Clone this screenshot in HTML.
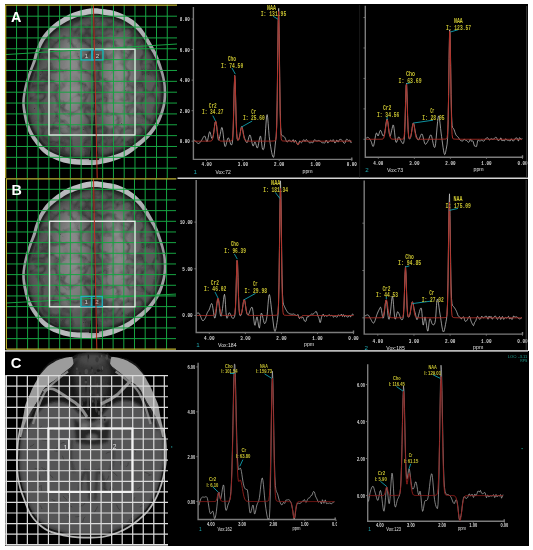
<!DOCTYPE html><html><head><meta charset="utf-8"><style>html,body{margin:0;padding:0;background:#fff;overflow:hidden}svg{display:block}.mono{font-family:"Liberation Mono",monospace}.sans{font-family:"Liberation Sans",Arial,sans-serif}</style></head><body>
<svg width="533" height="550" viewBox="0 0 533 550">
<defs><filter id="b1" x="-20%" y="-20%" width="140%" height="140%"><feGaussianBlur stdDeviation="1"/></filter><filter id="b2" x="-20%" y="-20%" width="140%" height="140%"><feGaussianBlur stdDeviation="2.2"/></filter><filter id="b4" x="-30%" y="-30%" width="160%" height="160%"><feGaussianBlur stdDeviation="4"/></filter><filter id="turbA" x="0" y="0" width="100%" height="100%" filterUnits="objectBoundingBox"><feTurbulence type="turbulence" baseFrequency="0.07" numOctaves="2" seed="4" result="t"/><feColorMatrix in="t" type="matrix" values="0 0 0 0 0  0 0 0 0 0  0 0 0 0 0  -2.2 0 0 0 0.75" result="a"/><feComposite in="a" in2="SourceGraphic" operator="in"/><feGaussianBlur stdDeviation="0.5"/></filter><filter id="b06" x="-20%" y="-20%" width="140%" height="140%"><feGaussianBlur stdDeviation="0.6"/></filter></defs>
<rect width="533" height="550" fill="#fff"/>
<rect x="5" y="4" width="523" height="174.5" fill="#000"/>
<rect x="5" y="178" width="523" height="173" fill="#000"/>
<rect x="5" y="351" width="524" height="195" fill="#000"/>
<defs><g id="brainAB"><linearGradient id="ringG" x1="0" y1="0" x2="0" y2="1"><stop offset="0" stop-color="#c2c2c6"/><stop offset="0.2" stop-color="#a8a8ac"/><stop offset="0.45" stop-color="#96969a"/><stop offset="0.7" stop-color="#a0a0a4"/><stop offset="1" stop-color="#bcbcc0"/></linearGradient>
<path d="M93,8.2 C97.17,7.98 101.33,8.8 105,9.3 C108.67,9.8 111.75,10.27 115,11.2 C118.25,12.13 121.63,13.5 124.5,14.9 C127.37,16.3 129.82,17.87 132.2,19.6 C134.58,21.33 136.92,23.42 138.8,25.3 C140.68,27.18 142.1,29.03 143.5,30.9 C144.9,32.77 145.95,34.47 147.2,36.5 C148.45,38.53 149.75,40.92 151,43.1 C152.25,45.28 153.62,47.57 154.7,49.6 C155.78,51.63 156.57,53.1 157.5,55.3 C158.43,57.5 159.32,59.92 160.3,62.8 C161.28,65.68 162.52,69.23 163.4,72.6 C164.28,75.97 165.13,79.77 165.6,83 C166.07,86.23 166.13,89.33 166.2,92 C166.27,94.67 166.27,96.32 166,99 C165.73,101.68 165.57,104.45 164.6,108.1 C163.63,111.75 162.27,116.63 160.2,120.9 C158.13,125.17 155.4,129.72 152.2,133.7 C149,137.68 144.98,141.35 141,144.8 C137.02,148.25 132.82,151.73 128.3,154.4 C123.78,157.07 118.95,159.13 113.9,160.8 C108.85,162.47 102.52,163.7 98,164.4 C93.48,165.1 91.33,165.07 86.8,165 C82.27,164.93 75.85,164.83 70.8,164 C65.75,163.17 61.02,161.87 56.5,160 C51.98,158.13 47.43,155.87 43.7,152.8 C39.97,149.73 36.75,145.32 34.1,141.6 C31.45,137.88 29.52,134.75 27.8,130.5 C26.08,126.25 24.73,120.88 23.8,116.1 C22.87,111.32 22.07,106.82 22.2,101.8 C22.33,96.78 23.5,90.97 24.6,86 C25.7,81.03 27.43,76.18 28.8,72 C30.17,67.82 31.8,64 32.8,60.9 C33.8,57.8 34.07,55.75 34.8,53.4 C35.53,51.05 36.4,48.83 37.2,46.8 C38,44.77 38.58,43.15 39.6,41.2 C40.62,39.25 41.9,37.05 43.3,35.1 C44.7,33.15 46.28,31.3 48,29.5 C49.72,27.7 51.57,25.95 53.6,24.3 C55.63,22.65 57.8,21.15 60.2,19.6 C62.6,18.05 64.7,16.5 68,15 C71.3,13.5 75.83,11.73 80,10.6 C84.17,9.47 88.83,8.42 93,8.2 Z" fill="url(#ringG)" filter="url(#b06)"/>
<path d="M93.11,13.9 C96.98,13.7 100.84,14.46 104.25,14.89 C107.67,15.33 110.54,15.69 113.58,16.5 C116.63,17.31 119.81,18.51 122.51,19.75 C125.21,20.99 127.54,22.38 129.81,23.94 C132.08,25.5 134.32,27.38 136.13,29.09 C137.94,30.79 139.31,32.49 140.67,34.2 C142.03,35.9 143.06,37.47 144.29,39.34 C145.53,41.21 146.82,43.41 148.07,45.43 C149.33,47.44 150.71,49.55 151.81,51.44 C152.91,53.33 153.72,54.7 154.68,56.76 C155.64,58.83 156.56,61.1 157.58,63.84 C158.61,66.58 159.89,69.96 160.81,73.18 C161.73,76.4 162.61,80.06 163.09,83.18 C163.57,86.29 163.63,89.29 163.69,91.86 C163.75,94.43 163.74,96.03 163.46,98.61 C163.17,101.19 162.97,103.86 161.96,107.34 C160.95,110.82 159.51,115.49 157.39,119.49 C155.28,123.5 152.47,127.73 149.27,131.38 C146.08,135.03 142.08,138.3 138.2,141.38 C134.33,144.47 130.3,147.55 126.01,149.91 C121.73,152.26 117.2,154.03 112.49,155.5 C107.77,156.96 101.93,158.07 97.74,158.71 C93.55,159.36 91.59,159.34 87.36,159.36 C83.14,159.38 77.17,159.46 72.41,158.83 C67.66,158.2 63.16,157.17 58.84,155.58 C54.51,153.98 50.1,152.03 46.47,149.27 C42.83,146.51 39.65,142.44 37.02,139 C34.39,135.57 32.44,132.66 30.69,128.66 C28.94,124.66 27.52,119.57 26.53,115.02 C25.54,110.46 24.67,106.13 24.77,101.31 C24.86,96.49 26,90.85 27.1,86.07 C28.21,81.29 29.99,76.63 31.4,72.63 C32.81,68.64 34.52,65.04 35.56,62.11 C36.61,59.18 36.9,57.26 37.66,55.06 C38.42,52.85 39.3,50.79 40.12,48.9 C40.93,47 41.52,45.5 42.53,43.7 C43.54,41.89 44.81,39.87 46.19,38.08 C47.56,36.3 49.11,34.62 50.78,32.99 C52.44,31.36 54.23,29.79 56.17,28.31 C58.12,26.83 60.19,25.5 62.47,24.12 C64.74,22.74 66.72,21.35 69.82,20.01 C72.91,18.67 77.15,17.11 81.03,16.1 C84.91,15.08 89.24,14.1 93.11,13.9 Z" fill="#1e1e1e" filter="url(#b06)"/>
<path d="M93.15,16.4 C96.89,16.2 100.63,16.95 103.92,17.38 C107.22,17.8 110,18.14 112.94,18.93 C115.87,19.71 118.94,20.88 121.55,22.09 C124.16,23.29 126.4,24.65 128.58,26.17 C130.76,27.69 132.91,29.52 134.64,31.18 C136.38,32.85 137.69,34.49 138.99,36.16 C140.29,37.82 141.26,39.34 142.43,41.16 C143.6,42.98 144.83,45.11 146.02,47.06 C147.21,49.01 148.53,51.04 149.58,52.86 C150.63,54.68 151.4,56 152.32,57.99 C153.24,59.98 154.11,62.17 155.09,64.8 C156.06,67.43 157.3,70.67 158.19,73.77 C159.07,76.86 159.93,80.38 160.4,83.37 C160.87,86.36 160.93,89.24 161,91.71 C161.06,94.18 161.06,95.72 160.79,98.2 C160.52,100.68 160.35,103.25 159.38,106.6 C158.42,109.95 157.04,114.44 155.01,118.3 C152.99,122.16 150.29,126.24 147.22,129.75 C144.14,133.27 140.29,136.41 136.57,139.39 C132.84,142.37 128.98,145.36 124.86,147.64 C120.74,149.92 116.38,151.64 111.84,153.07 C107.3,154.5 101.66,155.58 97.63,156.21 C93.59,156.85 91.69,156.84 87.61,156.87 C83.54,156.91 77.76,157.02 73.16,156.43 C68.56,155.83 64.21,154.86 60.02,153.33 C55.84,151.8 51.56,149.92 48.05,147.25 C44.55,144.57 41.5,140.61 38.98,137.27 C36.45,133.94 34.58,131.11 32.92,127.24 C31.26,123.37 29.93,118.43 29.01,114.03 C28.1,109.62 27.28,105.45 27.41,100.81 C27.54,96.16 28.7,90.74 29.8,86.15 C30.9,81.56 32.65,77.1 34.02,73.27 C35.38,69.44 37.02,66 38.01,63.19 C38.99,60.37 39.24,58.51 39.95,56.39 C40.66,54.26 41.49,52.26 42.25,50.43 C43.01,48.6 43.56,47.14 44.52,45.39 C45.48,43.65 46.68,41.68 47.99,39.95 C49.3,38.22 50.79,36.59 52.38,35.01 C53.97,33.43 55.69,31.9 57.56,30.46 C59.43,29.03 61.42,27.74 63.61,26.39 C65.79,25.04 67.7,23.68 70.68,22.38 C73.66,21.07 77.75,19.56 81.49,18.56 C85.24,17.56 89.42,16.59 93.15,16.4 Z" fill="#464646" filter="url(#b1)"/>
<path d="M93.23,20.2 C96.76,20 100.3,20.74 103.42,21.14 C106.54,21.54 109.18,21.86 111.96,22.6 C114.74,23.34 117.64,24.45 120.11,25.6 C122.57,26.75 124.69,28.05 126.74,29.5 C128.8,30.94 130.82,32.69 132.45,34.28 C134.08,35.88 135.3,37.45 136.51,39.04 C137.72,40.63 138.63,42.08 139.72,43.81 C140.8,45.54 141.93,47.57 143.04,49.42 C144.16,51.27 145.4,53.19 146.38,54.91 C147.36,56.63 148.09,57.86 148.95,59.74 C149.81,61.61 150.62,63.68 151.54,66.16 C152.46,68.63 153.63,71.68 154.48,74.59 C155.32,77.51 156.15,80.82 156.61,83.63 C157.06,86.45 157.13,89.17 157.2,91.5 C157.28,93.83 157.28,95.28 157.04,97.62 C156.79,99.96 156.63,102.39 155.73,105.56 C154.83,108.72 153.53,112.96 151.61,116.6 C149.7,120.24 147.15,124.09 144.24,127.39 C141.33,130.7 137.68,133.64 134.16,136.45 C130.64,139.26 127.02,142.1 123.14,144.26 C119.25,146.41 115.14,148.04 110.86,149.4 C106.58,150.76 101.26,151.8 97.45,152.42 C93.64,153.03 91.85,153.03 87.99,153.09 C84.13,153.15 78.66,153.32 74.29,152.8 C69.93,152.28 65.78,151.39 61.8,149.97 C57.81,148.54 53.73,146.79 50.4,144.25 C47.07,141.72 44.2,137.93 41.82,134.75 C39.44,131.57 37.67,128.89 36.12,125.2 C34.57,121.51 33.37,116.81 32.54,112.62 C31.71,108.44 30.97,104.49 31.14,100.09 C31.32,95.7 32.5,90.58 33.6,86.26 C34.69,81.94 36.39,77.76 37.71,74.17 C39.02,70.58 40.56,67.36 41.48,64.71 C42.41,62.07 42.6,60.3 43.24,58.29 C43.88,56.28 44.64,54.39 45.34,52.65 C46.03,50.91 46.53,49.52 47.41,47.86 C48.29,46.2 49.41,44.33 50.64,42.68 C51.86,41.03 53.25,39.49 54.74,37.98 C56.24,36.48 57.85,35.03 59.61,33.66 C61.37,32.29 63.25,31.07 65.31,29.79 C67.37,28.5 69.16,27.2 71.98,25.95 C74.79,24.7 78.65,23.25 82.19,22.29 C85.73,21.34 89.69,20.39 93.23,20.2 Z" fill="#5a5a5a" filter="url(#b2)"/>
<g filter="url(#b4)"><ellipse cx="71" cy="86" rx="17" ry="50" fill="#7e7e7e"/><ellipse cx="118" cy="86" rx="17" ry="50" fill="#7e7e7e"/><rect x="88" y="22" width="13" height="136" fill="#4e4e4e"/></g>
<path d="M93.15,16.18 C96.9,15.99 100.65,16.72 103.95,17.17 C107.25,17.62 110.03,18.04 112.95,18.88 C115.88,19.72 118.92,20.95 121.5,22.21 C124.08,23.47 126.29,24.88 128.43,26.44 C130.58,28 132.68,29.87 134.37,31.57 C136.06,33.26 137.34,34.93 138.6,36.61 C139.86,38.29 140.81,39.82 141.93,41.65 C143.06,43.48 144.22,45.62 145.35,47.59 C146.47,49.56 147.71,51.61 148.68,53.44 C149.66,55.27 150.36,56.59 151.2,58.57 C152.04,60.55 152.84,62.72 153.72,65.32 C154.61,67.91 155.72,71.11 156.51,74.14 C157.3,77.17 158.07,80.59 158.49,83.5 C158.91,86.41 158.97,89.2 159.03,91.6 C159.09,94 159.09,95.48 158.85,97.9 C158.61,100.32 158.46,102.81 157.59,106.09 C156.72,109.38 155.49,113.77 153.63,117.61 C151.77,121.45 149.31,125.55 146.43,129.13 C143.55,132.72 139.94,136.02 136.35,139.12 C132.76,142.22 128.99,145.36 124.92,147.76 C120.86,150.16 116.51,152.02 111.96,153.52 C107.42,155.02 101.72,156.13 97.65,156.76 C93.59,157.39 91.65,157.36 87.57,157.3 C83.49,157.24 77.72,157.15 73.17,156.4 C68.62,155.65 64.36,154.48 60.3,152.8 C56.23,151.12 52.14,149.08 48.78,146.32 C45.42,143.56 42.52,139.59 40.14,136.24 C37.76,132.9 36.02,130.07 34.47,126.25 C32.92,122.42 31.71,117.59 30.87,113.29 C30.03,108.98 29.31,104.94 29.43,100.42 C29.55,95.91 30.6,90.67 31.59,86.2 C32.58,81.73 34.14,77.36 35.37,73.6 C36.6,69.83 38.07,66.4 38.97,63.61 C39.87,60.82 40.11,58.98 40.77,56.86 C41.43,54.74 42.21,52.75 42.93,50.92 C43.65,49.09 44.18,47.64 45.09,45.88 C46.01,44.12 47.16,42.15 48.42,40.39 C49.68,38.63 51.1,36.97 52.65,35.35 C54.2,33.73 55.86,32.15 57.69,30.67 C59.52,29.18 61.47,27.83 63.63,26.44 C65.79,25.04 67.68,23.65 70.65,22.3 C73.62,20.95 77.7,19.36 81.45,18.34 C85.2,17.32 89.4,16.38 93.15,16.18 Z" fill="#000" filter="url(#turbA)" opacity="0.45"/>
<g filter="url(#b2)" fill="#8e8e8e" opacity="0.75"><ellipse cx="72" cy="78" rx="6" ry="30"/><ellipse cx="117" cy="78" rx="6" ry="30"/></g>
<g filter="url(#b06)"><path d="M93.6,16 L94,40 M94.2,70 L94.6,110" stroke="#262626" stroke-width="1.4" fill="none"/><path d="M94.3,112 L96,128 L97.5,150 L99,160 L89,160 L92,140 Z" fill="#141414"/></g></g><clipPath id="clipA"><rect x="5.5" y="4.5" width="171.5" height="173.5"/></clipPath><clipPath id="clipB"><rect x="6" y="178.5" width="170" height="171"/></clipPath></defs>
<g clip-path="url(#clipA)">
<use href="#brainAB"/>
<path d="M16.55,4.5 V178 M27.32,4.5 V178 M38.08,4.5 V178 M48.84,4.5 V178 M59.61,4.5 V178 M70.38,4.5 V178 M81.14,4.5 V178 M91.91,4.5 V178 M102.67,4.5 V178 M113.44,4.5 V178 M124.2,4.5 V178 M134.97,4.5 V178 M145.73,4.5 V178 M156.5,4.5 V178 M167.26,4.5 V178 M5.5,16.2 H177 M5.5,27.06 H177 M5.5,37.91 H177 M5.5,48.77 H177 M5.5,59.63 H177 M5.5,70.48 H177 M5.5,81.34 H177 M5.5,92.2 H177 M5.5,103.06 H177 M5.5,113.91 H177 M5.5,124.77 H177 M5.5,135.63 H177 M5.5,146.48 H177 M5.5,157.34 H177 M5.5,168.2 H177" stroke="#16a442" stroke-width="1.0" fill="none"/>
<path d="M5,54.6 L177,44" stroke="#16a442" stroke-width="1.0"/>
<rect x="49" y="49.2" width="86" height="85.8" fill="none" stroke="#e6e6e6" stroke-width="1.4"/>
<rect x="81" y="50" width="11" height="10" fill="none" stroke="#20b0c0" stroke-width="1.3"/>
<rect x="92" y="50" width="11" height="10" fill="none" stroke="#20b0c0" stroke-width="1.3"/>
<text x="86.5" y="58" font-size="6.2" fill="#d0d0d0" text-anchor="middle" class="sans">1</text>
<text x="97.5" y="58" font-size="6.2" fill="#d0d0d0" text-anchor="middle" class="sans">2</text>
<path d="M93.4,4 L97.2,178" stroke="#c03020" stroke-width="1"/>
</g>
<path d="M5.7,178 V5.2 H177" stroke="#bcb030" stroke-width="1.2" fill="none"/>
<text x="11" y="21.6" font-size="14.3" font-weight="bold" fill="#fff" class="sans">A</text>
<g clip-path="url(#clipB)">
<g transform="translate(0,173.1)"><use href="#brainAB"/></g>
<path d="M16.9,178.5 V350 M27.59,178.5 V350 M38.28,178.5 V350 M48.97,178.5 V350 M59.66,178.5 V350 M70.35,178.5 V350 M81.04,178.5 V350 M91.73,178.5 V350 M102.42,178.5 V350 M113.11,178.5 V350 M123.8,178.5 V350 M134.49,178.5 V350 M145.18,178.5 V350 M155.87,178.5 V350 M166.56,178.5 V350 M6,189.3 H176 M6,199.97 H176 M6,210.63 H176 M6,221.3 H176 M6,231.96 H176 M6,242.62 H176 M6,253.29 H176 M6,263.96 H176 M6,274.62 H176 M6,285.28 H176 M6,295.95 H176 M6,306.62 H176 M6,317.28 H176 M6,327.94 H176 M6,338.61 H176" stroke="#16a442" stroke-width="1.0" fill="none"/>
<path d="M6,303 L177,294" stroke="#16a442" stroke-width="1.0"/>
<rect x="49.5" y="221.3" width="85.5" height="85.5" fill="none" stroke="#e6e6e6" stroke-width="1.4"/>
<rect x="81" y="296.5" width="10.5" height="10" fill="none" stroke="#20b0c0" stroke-width="1.3"/>
<rect x="91.5" y="296.5" width="10.8" height="10" fill="none" stroke="#20b0c0" stroke-width="1.3"/>
<text x="86.3" y="304.3" font-size="6.2" fill="#d0d0d0" text-anchor="middle" class="sans">1</text>
<text x="96.9" y="304.3" font-size="6.2" fill="#d0d0d0" text-anchor="middle" class="sans">2</text>
<path d="M93.5,178 L96.85,351" stroke="#c03020" stroke-width="1"/>
</g>
<path d="M6.4,349.2 V178.9 H176.3 M6.4,349.2 H176" stroke="#bcb030" stroke-width="1.2" fill="none"/>
<text x="11.5" y="195" font-size="14.3" font-weight="bold" fill="#fff" class="sans">B</text>
<path d="M177.5,178.3 H528" stroke="#d4d4d4" stroke-width="1.6"/>
<path d="M5,350.9 H528" stroke="#b8b8b8" stroke-width="1.6"/>
<clipPath id="clipC"><rect x="5" y="351.8" width="165" height="194"/></clipPath>
<g clip-path="url(#clipC)">
<path d="M91.8,352.5 C95.8,352.5 100.47,352.83 104,353.5 C107.53,354.17 109.5,355.7 113,356.5 C116.5,357.3 121.5,357.28 125,358.3 C128.5,359.32 131.25,360.65 134,362.6 C136.75,364.55 139.23,367.02 141.5,370 C143.77,372.98 145.72,376.75 147.6,380.5 C149.48,384.25 151.3,388.5 152.8,392.5 C154.3,396.5 155.35,400.5 156.6,404.5 C157.85,408.5 159.17,412.58 160.3,416.5 C161.43,420.42 162.55,424.08 163.4,428 C164.25,431.92 164.97,436 165.4,440 C165.83,444 165.97,448 166,452 C166.03,456 166.03,459.83 165.6,464 C165.17,468.17 164.42,472.67 163.4,477 C162.38,481.33 160.98,486 159.5,490 C158.02,494 156.5,497.42 154.5,501 C152.5,504.58 150.08,508.42 147.5,511.5 C144.92,514.58 142.08,516.92 139,519.5 C135.92,522.08 132.5,524.83 129,527 C125.5,529.17 122,530.92 118,532.5 C114,534.08 109.42,535.65 105,536.5 C100.58,537.35 96,537.47 91.5,537.6 C87,537.73 81.93,537.53 78,537.3 C74.07,537.07 71.27,536.77 67.9,536.2 C64.53,535.63 60.98,534.75 57.8,533.9 C54.62,533.05 51.62,532.42 48.8,531.1 C45.98,529.78 43.35,527.97 40.9,526 C38.45,524.03 36.17,521.92 34.1,519.3 C32.03,516.68 30.18,513.68 28.5,510.3 C26.82,506.92 25.38,502.72 24,499 C22.62,495.28 21.22,491.67 20.2,488 C19.18,484.33 18.42,480.67 17.9,477 C17.38,473.33 17.2,470 17.1,466 C17,462 17.13,457.17 17.3,453 C17.47,448.83 17.63,445 18.1,441 C18.57,437 19.25,433 20.1,429 C20.95,425 22.05,421 23.2,417 C24.35,413 25.73,409 27,405 C28.27,401 29.3,397 30.8,393 C32.3,389 34.12,384.8 36,381 C37.88,377.2 39.83,373.27 42.1,370.2 C44.37,367.13 46.85,364.58 49.6,362.6 C52.35,360.62 55.1,359.27 58.6,358.3 C62.1,357.33 67.03,357.6 70.6,356.8 C74.17,356 76.47,354.22 80,353.5 C83.53,352.78 87.8,352.5 91.8,352.5 Z" fill="#141414" filter="url(#b06)"/>
<path d="M91.8,355.62 C95.67,355.62 100.19,355.94 103.61,356.59 C107.03,357.23 108.93,358.72 112.32,359.49 C115.71,360.27 120.55,360.25 123.94,361.23 C127.33,362.22 129.99,363.51 132.65,365.4 C135.31,367.28 137.72,369.67 139.91,372.56 C142.1,375.45 143.99,379.09 145.81,382.72 C147.64,386.35 149.4,390.47 150.85,394.34 C152.3,398.21 153.32,402.08 154.53,405.96 C155.74,409.83 157.01,413.78 158.11,417.57 C159.21,421.36 160.29,424.91 161.11,428.7 C161.93,432.5 162.63,436.45 163.04,440.32 C163.46,444.19 163.59,448.06 163.63,451.94 C163.66,455.81 163.66,459.52 163.24,463.55 C162.82,467.59 162.09,471.94 161.11,476.14 C160.12,480.33 158.77,484.85 157.33,488.72 C155.9,492.59 154.43,495.9 152.49,499.37 C150.56,502.84 148.22,506.55 145.72,509.53 C143.22,512.52 140.47,514.78 137.49,517.28 C134.5,519.78 131.2,522.44 127.81,524.54 C124.42,526.63 121.03,528.33 117.16,529.86 C113.29,531.39 108.85,532.91 104.58,533.73 C100.3,534.55 95.87,534.67 91.51,534.8 C87.15,534.93 82.25,534.73 78.44,534.51 C74.63,534.28 71.92,533.99 68.66,533.44 C65.41,532.89 61.97,532.04 58.89,531.22 C55.81,530.39 52.9,529.78 50.18,528.5 C47.45,527.23 44.9,525.47 42.53,523.57 C40.16,521.66 37.95,519.62 35.95,517.08 C33.95,514.55 32.16,511.65 30.53,508.37 C28.9,505.1 27.51,501.03 26.17,497.43 C24.83,493.83 23.48,490.33 22.49,486.78 C21.51,483.23 20.76,479.69 20.26,476.14 C19.76,472.59 19.59,469.36 19.49,465.49 C19.39,461.62 19.52,456.94 19.68,452.9 C19.85,448.87 20.01,445.16 20.46,441.29 C20.91,437.42 21.57,433.54 22.39,429.67 C23.22,425.8 24.28,421.93 25.4,418.06 C26.51,414.18 27.85,410.31 29.07,406.44 C30.3,402.57 31.3,398.7 32.75,394.82 C34.2,390.95 35.96,386.89 37.79,383.21 C39.61,379.53 41.5,375.72 43.69,372.75 C45.88,369.79 48.29,367.32 50.95,365.4 C53.61,363.48 56.27,362.17 59.66,361.23 C63.05,360.3 67.83,360.56 71.28,359.78 C74.73,359.01 76.96,357.28 80.38,356.59 C83.8,355.89 87.93,355.62 91.8,355.62 Z" fill="#3c3c3c" filter="url(#b06)"/>
<path d="M91.8,357.38 C95.6,357.38 100.03,357.69 103.39,358.32 C106.75,358.96 108.61,360.42 111.94,361.18 C115.27,361.94 120.02,361.92 123.34,362.88 C126.67,363.85 129.28,365.12 131.89,366.97 C134.5,368.82 136.86,371.17 139.01,374 C141.17,376.83 143.02,380.41 144.81,383.98 C146.6,387.54 148.32,391.57 149.75,395.38 C151.18,399.18 152.17,402.97 153.36,406.77 C154.55,410.57 155.8,414.45 156.88,418.18 C157.95,421.9 159.01,425.38 159.82,429.1 C160.63,432.82 161.31,436.7 161.72,440.5 C162.13,444.3 162.26,448.1 162.29,451.9 C162.32,455.7 162.32,459.34 161.91,463.3 C161.5,467.26 160.79,471.53 159.82,475.65 C158.85,479.77 157.52,484.2 156.12,488 C154.71,491.8 153.27,495.05 151.37,498.45 C149.47,501.85 147.17,505.5 144.72,508.43 C142.26,511.35 139.57,513.57 136.64,516.02 C133.71,518.48 130.47,521.09 127.14,523.15 C123.81,525.21 120.49,526.87 116.69,528.38 C112.89,529.88 108.54,531.37 104.34,532.17 C100.14,532.98 95.79,533.09 91.52,533.22 C87.24,533.35 82.43,533.16 78.69,532.93 C74.95,532.71 72.29,532.43 69.09,531.89 C65.9,531.35 62.52,530.51 59.5,529.7 C56.48,528.9 53.63,528.3 50.95,527.05 C48.27,525.79 45.77,524.07 43.45,522.2 C41.12,520.33 38.95,518.32 36.99,515.83 C35.02,513.35 33.26,510.5 31.66,507.29 C30.07,504.07 28.7,500.08 27.39,496.55 C26.08,493.02 24.75,489.58 23.78,486.1 C22.81,482.62 22.09,479.13 21.59,475.65 C21.1,472.17 20.93,469 20.84,465.2 C20.74,461.4 20.87,456.81 21.03,452.85 C21.18,448.89 21.34,445.25 21.79,441.45 C22.23,437.65 22.88,433.85 23.69,430.05 C24.49,426.25 25.54,422.45 26.63,418.65 C27.72,414.85 29.04,411.05 30.24,407.25 C31.44,403.45 32.43,399.65 33.85,395.85 C35.27,392.05 37,388.06 38.79,384.45 C40.58,380.84 42.43,377.1 44.59,374.19 C46.74,371.28 49.1,368.85 51.71,366.97 C54.32,365.09 56.94,363.8 60.26,362.88 C63.59,361.97 68.27,362.22 71.66,361.46 C75.05,360.7 77.23,359.01 80.59,358.32 C83.95,357.64 88,357.38 91.8,357.38 Z" fill="#555557" filter="url(#b1)"/>
<path d="M163.4,428 C163.73,430 164.97,436 165.4,440 C165.83,444 165.97,448 166,452 C166.03,456 166.03,459.83 165.6,464 C165.17,468.17 164.42,472.67 163.4,477 C162.38,481.33 160.98,486 159.5,490 C158.02,494 156.5,497.42 154.5,501 C152.5,504.58 150.08,508.42 147.5,511.5 C144.92,514.58 142.08,516.92 139,519.5 C135.92,522.08 132.5,524.83 129,527 C125.5,529.17 122,530.92 118,532.5 C114,534.08 109.42,535.65 105,536.5 C100.58,537.35 96,537.47 91.5,537.6 C87,537.73 81.93,537.53 78,537.3 C74.07,537.07 71.27,536.77 67.9,536.2 C64.53,535.63 60.98,534.75 57.8,533.9 C54.62,533.05 51.62,532.42 48.8,531.1 C45.98,529.78 43.35,527.97 40.9,526 C38.45,524.03 36.17,521.92 34.1,519.3 C32.03,516.68 30.18,513.68 28.5,510.3 C26.82,506.92 25.38,502.72 24,499 C22.62,495.28 21.22,491.67 20.2,488 C19.18,484.33 18.42,480.67 17.9,477 C17.38,473.33 17.2,470 17.1,466 C17,462 17.13,457.17 17.3,453 C17.47,448.83 17.63,445 18.1,441 C18.57,437 19.77,431 20.1,429 " stroke="#b4b4b4" stroke-width="1.7" fill="none" filter="url(#b06)"/>
<g filter="url(#b1)"><path d="M26,432 C28,420 32,408 37,396 C42,386 50,377 60,371 C66,368 72,364 76,360 C82,356 102,356 108,360 C112,364 118,368 124,371 C134,377 142,386 147,396 C152,408 156,420 158,432 C152,420 146,410 138,404 C128,398 116,400 108,408 C102,414 98,420 92,422 C86,420 80,414 74,408 C66,400 54,400 46,405 C38,410 32,420 26,432 Z" fill="#151515"/></g>
<g filter="url(#b2)"><path d="M77,356 C82,352.5 102,352.5 107,356 L111,372 L105,400 L79,400 L73,372 Z" fill="#343434"/><ellipse cx="92" cy="360" rx="13" ry="6" fill="#4a4a4a"/></g>
<g filter="url(#b06)" opacity="0.85"><ellipse cx="81.28" cy="399.83" rx="0.94" ry="2.69" fill="rgb(65,65,65)"/><ellipse cx="107.67" cy="385.85" rx="0.82" ry="2.06" fill="rgb(57,57,57)"/><ellipse cx="101.23" cy="355.92" rx="1.3" ry="1.14" fill="rgb(84,84,84)"/><ellipse cx="101.4" cy="370.1" rx="1.43" ry="1.87" fill="rgb(39,39,39)"/><ellipse cx="107.85" cy="405.1" rx="1.34" ry="1.07" fill="rgb(51,51,51)"/><ellipse cx="86.53" cy="387.34" rx="1.38" ry="2.88" fill="rgb(32,32,32)"/><ellipse cx="76.74" cy="403.17" rx="0.75" ry="2.86" fill="rgb(30,30,30)"/><ellipse cx="90.5" cy="390.88" rx="1.08" ry="1.3" fill="rgb(46,46,46)"/><ellipse cx="97.28" cy="385.55" rx="0.88" ry="2.56" fill="rgb(77,77,77)"/><ellipse cx="82.67" cy="417.97" rx="1.39" ry="2.9" fill="rgb(82,82,82)"/><ellipse cx="104.72" cy="419.27" rx="0.75" ry="1.95" fill="rgb(29,29,29)"/><ellipse cx="102.46" cy="368.07" rx="0.78" ry="2.07" fill="rgb(84,84,84)"/><ellipse cx="85.34" cy="417.04" rx="1.06" ry="2.99" fill="rgb(57,57,57)"/><ellipse cx="88.37" cy="356.74" rx="0.79" ry="2.43" fill="rgb(30,30,30)"/><ellipse cx="107.44" cy="355.18" rx="1.26" ry="2.5" fill="rgb(29,29,29)"/><ellipse cx="83.11" cy="394.58" rx="1.78" ry="1.23" fill="rgb(60,60,60)"/><ellipse cx="97.43" cy="395.72" rx="1.71" ry="1.69" fill="rgb(78,78,78)"/><ellipse cx="95.11" cy="374.93" rx="0.8" ry="2.85" fill="rgb(31,31,31)"/><ellipse cx="81.57" cy="382.87" rx="1.42" ry="2.35" fill="rgb(35,35,35)"/><ellipse cx="104.76" cy="417.29" rx="1.7" ry="1.33" fill="rgb(51,51,51)"/><ellipse cx="99.74" cy="355.93" rx="1.19" ry="1.75" fill="rgb(47,47,47)"/><ellipse cx="83.91" cy="411.95" rx="1.27" ry="1.88" fill="rgb(35,35,35)"/><ellipse cx="89.04" cy="403.19" rx="1.6" ry="1.1" fill="rgb(28,28,28)"/><ellipse cx="84.26" cy="373.84" rx="0.9" ry="1.79" fill="rgb(51,51,51)"/><ellipse cx="103.85" cy="396.95" rx="1.78" ry="2.49" fill="rgb(34,34,34)"/><ellipse cx="91.33" cy="371.39" rx="1.23" ry="2.46" fill="rgb(66,66,66)"/><ellipse cx="76.91" cy="368.79" rx="1.04" ry="1.31" fill="rgb(78,78,78)"/><ellipse cx="87.8" cy="405.23" rx="1.3" ry="2.7" fill="rgb(56,56,56)"/><ellipse cx="85.86" cy="389.73" rx="0.77" ry="2.44" fill="rgb(42,42,42)"/><ellipse cx="88.24" cy="363.18" rx="0.63" ry="2.19" fill="rgb(70,70,70)"/><ellipse cx="96.6" cy="410.36" rx="1.11" ry="2.37" fill="rgb(62,62,62)"/><ellipse cx="100.05" cy="407.79" rx="0.76" ry="1.19" fill="rgb(33,33,33)"/><ellipse cx="79.01" cy="356.65" rx="1.54" ry="1.14" fill="rgb(53,53,53)"/><ellipse cx="79.81" cy="373.29" rx="1.25" ry="1.65" fill="rgb(44,44,44)"/><ellipse cx="91.8" cy="369.27" rx="0.82" ry="2.71" fill="rgb(35,35,35)"/><ellipse cx="82.45" cy="403.37" rx="0.66" ry="2.42" fill="rgb(73,73,73)"/><ellipse cx="103.96" cy="405.33" rx="1.72" ry="1.78" fill="rgb(75,75,75)"/><ellipse cx="103.66" cy="380.87" rx="0.81" ry="2.42" fill="rgb(61,61,61)"/><ellipse cx="84.09" cy="400.29" rx="1.49" ry="1.49" fill="rgb(45,45,45)"/><ellipse cx="81" cy="402.2" rx="1.58" ry="2.61" fill="rgb(43,43,43)"/><ellipse cx="91.68" cy="392.24" rx="1.32" ry="2.02" fill="rgb(59,59,59)"/><ellipse cx="99.51" cy="417.86" rx="0.95" ry="2.25" fill="rgb(44,44,44)"/><ellipse cx="100.25" cy="367.32" rx="1.58" ry="2.95" fill="rgb(64,64,64)"/><ellipse cx="87.37" cy="375.68" rx="0.73" ry="1.15" fill="rgb(51,51,51)"/><ellipse cx="78.35" cy="407.93" rx="1.77" ry="2.01" fill="rgb(73,73,73)"/><ellipse cx="106.31" cy="399.19" rx="1.13" ry="2.03" fill="rgb(70,70,70)"/><ellipse cx="88.46" cy="381.1" rx="0.63" ry="2.32" fill="rgb(39,39,39)"/><ellipse cx="77.35" cy="372.91" rx="1.58" ry="2.45" fill="rgb(62,62,62)"/><ellipse cx="90.59" cy="370.37" rx="0.99" ry="1.46" fill="rgb(49,49,49)"/><ellipse cx="105.27" cy="397.53" rx="1.18" ry="1.98" fill="rgb(27,27,27)"/><ellipse cx="98.95" cy="412.88" rx="1.14" ry="2.27" fill="rgb(74,74,74)"/><ellipse cx="95.82" cy="402.52" rx="1.44" ry="2.37" fill="rgb(63,63,63)"/><ellipse cx="83.85" cy="414.58" rx="0.97" ry="1.76" fill="rgb(49,49,49)"/><ellipse cx="92.78" cy="401.24" rx="0.61" ry="1.63" fill="rgb(83,83,83)"/><ellipse cx="85.98" cy="380.43" rx="0.71" ry="1.35" fill="rgb(34,34,34)"/><ellipse cx="92.72" cy="395.3" rx="1.49" ry="1.92" fill="rgb(49,49,49)"/><ellipse cx="79.46" cy="417.14" rx="1.12" ry="2.36" fill="rgb(70,70,70)"/><ellipse cx="87.9" cy="392.81" rx="0.91" ry="2.9" fill="rgb(37,37,37)"/><ellipse cx="86.31" cy="371.53" rx="1.76" ry="2.8" fill="rgb(79,79,79)"/><ellipse cx="92.23" cy="370.5" rx="0.93" ry="1.76" fill="rgb(69,69,69)"/><ellipse cx="106.1" cy="385.35" rx="1.15" ry="2.33" fill="rgb(52,52,52)"/><ellipse cx="97.43" cy="398.4" rx="0.93" ry="1.38" fill="rgb(64,64,64)"/><ellipse cx="106.75" cy="357.23" rx="1.36" ry="2.74" fill="rgb(76,76,76)"/><ellipse cx="87.77" cy="359.87" rx="0.65" ry="2.22" fill="rgb(62,62,62)"/><ellipse cx="98.41" cy="370.61" rx="1.73" ry="1.3" fill="rgb(25,25,25)"/><ellipse cx="107.13" cy="367.37" rx="1.67" ry="1.74" fill="rgb(48,48,48)"/><ellipse cx="80.32" cy="406.46" rx="1.12" ry="2.68" fill="rgb(77,77,77)"/><ellipse cx="85.88" cy="382.11" rx="1.26" ry="1.45" fill="rgb(81,81,81)"/><ellipse cx="101.68" cy="409.83" rx="1.16" ry="2.58" fill="rgb(84,84,84)"/><ellipse cx="97.08" cy="359.75" rx="1.68" ry="2.49" fill="rgb(52,52,52)"/></g>
<g filter="url(#b06)" fill="none"><path d="M82,378 L81,408 M88,374 L88,410 M95,374 L96,410 M101,378 L103,406" stroke="#3a3a3a" stroke-width="1.8"/></g>
<defs><g id="cresL"><path d="M72.5,357.2 C71.83,357.22 70.58,356.95 68.5,357.3 C66.42,357.65 62.42,358.48 60,359.3 C57.58,360.12 56,361.08 54,362.2 C52,363.32 49.72,364.62 48,366 C46.28,367.38 45.12,368.92 43.7,370.5 C42.28,372.08 40.7,373.78 39.5,375.5 C38.3,377.22 37.58,378.88 36.5,380.8 C35.42,382.72 34.03,384.93 33,387 C31.97,389.07 31.22,391.12 30.3,393.2 C29.38,395.28 28.35,397.43 27.5,399.5 C26.65,401.57 25.92,402.68 25.2,405.6 C24.48,408.52 23.93,413.27 23.2,417 C22.47,420.73 21.37,424.67 20.8,428 C20.23,431.33 19.97,435.5 19.8,437  L21.3,437 C21.78,435.17 23.03,429.5 24.2,426 C25.37,422.5 26.83,419 28.3,416 C29.77,413 31.47,410.42 33,408 C34.53,405.58 36.23,403.58 37.5,401.5 C38.77,399.42 39.57,397.5 40.6,395.5 C41.63,393.5 42.32,391.38 43.7,389.5 C45.08,387.62 46.83,385.87 48.9,384.2 C50.97,382.53 53.7,381.28 56.1,379.5 C58.5,377.72 60.88,375.48 63.3,373.5 C65.72,371.52 68.9,369.27 70.6,367.6 C72.3,365.93 73.02,364.18 73.5,363.5  Z" fill="#9c9c9c"/><path d="M71,367.8 C69.72,368.8 65.78,371.78 63.3,373.8 C60.82,375.82 58.5,378.1 56.1,379.9 C53.7,381.7 50.97,382.92 48.9,384.6 C46.83,386.28 45.08,388.1 43.7,390 C42.32,391.9 41.63,394 40.6,396 C39.57,398 38.6,399.83 37.5,402 C36.4,404.17 35.25,406.33 34,409 C32.75,411.67 31.25,414.83 30,418 C28.75,421.17 27.08,426.33 26.5,428 " stroke="#2a2a2a" stroke-width="1.2" fill="none"/><path d="M68,371.5 C66.83,372.33 63.33,374.67 61,376.5 C58.67,378.33 56.08,380.67 54,382.5 C51.92,384.33 50,385.92 48.5,387.5 C47,389.08 46.08,390.25 45,392 C43.92,393.75 43,395.83 42,398 C41,400.17 40,402.33 39,405 C38,407.67 37,410.83 36,414 C35,417.17 33.5,422.33 33,424 " stroke="#808080" stroke-width="2.3" fill="none"/></g></defs>
<g filter="url(#b06)"><use href="#cresL"/><use href="#cresL" transform="translate(183.6,0) scale(-1,1)"/><path d="M43.5,391.5 C47,388 52,388 55.5,390 C61,393 68,398 75,402.5 C80,406 84,412 87,417" stroke="#8a8a8a" stroke-width="3" fill="none"/><path d="M132,379 C128,384 123.5,388.5 117.5,394.5 C113,398 108,401 101,404" stroke="#8a8a8a" stroke-width="3" fill="none"/></g>
<g filter="url(#b1)"><path d="M74,418 C80,424 86,428 92,428 C98,428 104,424 110,418 L108,442 C100,446 84,446 76,442 Z" fill="#262626"/><ellipse cx="84" cy="426" rx="4" ry="3" fill="#707070"/><ellipse cx="100" cy="427" rx="4" ry="3" fill="#6a6a6a"/><ellipse cx="92" cy="437" rx="6" ry="3" fill="#5a5a5a"/><ellipse cx="92" cy="456" rx="13" ry="11" fill="#575757"/><path d="M72,440 C70,450 70,462 74,472 M112,440 C114,450 114,462 110,472" stroke="#2a2a2a" stroke-width="1.5" fill="none"/><path d="M88,470 C88,480 89,490 90,500 M97,470 C97,480 96,490 95,500 M86,470 C82,476 80,484 80,492 M99,470 C103,476 105,484 105,492" stroke="#232323" stroke-width="1.6" fill="none"/></g>
<path d="M86.55,482.66 q0.03,0.35 4.32,-2.23 M53.08,477.73 q-1.62,-0.79 -4.23,-4.5 M41.33,508.39 q1.93,1.86 -1.1,-2.97 M111.74,488.4 q0.11,-1.76 1.68,2.56 M53.78,449.92 q-0.24,1.37 4.77,0.91 M94.89,490.95 q-0.17,-0.89 -5.65,0.01 M135.03,497.9 q-0.84,-1.72 -1.56,3.59 M125.79,466.24 q1.83,1.39 2.59,-3.73 M30.07,446.6 q1.92,-0.41 4.12,-2.61 M39.13,489.83 q-1.65,-0.67 0.73,-4.01 M44.75,450.38 q1.19,-1.29 2.61,1.92 M99.91,471.08 q-1.48,0.57 2.16,5.52 M44.56,468.34 q1.88,1.21 0.94,3.97 M68.02,516.14 q1.42,0.57 1.12,4.44 M56.66,451.6 q-0.81,-1.71 0.61,-4.27 M41.26,485.02 q-0.51,-0.19 0.24,5.4 M149.89,474.82 q-1.27,-1.38 -5.77,-2.92 M143.55,509.23 q0.96,1.76 0.01,3.76 M140.27,487.16 q-1.85,1.85 -3.01,1.62 M59.8,497.57 q0.39,-0.83 -0.28,6.29 M51.93,499.2 q0.24,1.41 3.55,1.64 M106.79,453.86 q-1.93,-0.92 3.31,-1.89 M85.71,431.23 q0.29,-1.47 2,4 M75.27,516.77 q0.76,0.34 5.59,-0.69 M47.54,428.61 q0.8,1.85 6.6,0.75 M32.66,490.53 q-0.72,2 -5.89,0.66 M39.41,481.25 q0.95,0.81 -0.54,-6.58 M129.16,519.25 q1.6,1.48 -3.43,4.61 M82.14,506.42 q0.5,-0.47 3.46,-4 M102.83,487.71 q1.97,1.52 4.87,2.68 M121.03,465.01 q-0.24,1.35 -0.5,-5.3 M40.47,502.27 q-0.08,-1.08 5.31,1.01 M117.29,476.22 q-0.98,-1.95 -5.03,-4.4 M67.63,494.85 q1.62,0.64 1.08,3.52 M85.24,516.85 q-1.21,-0.28 -2.63,5.01 M130.75,519.16 q0.33,-0.73 3.31,-3.1 M47.02,476.14 q0.84,1.8 3.33,-5.46 M64.6,442.42 q-1.14,-0.34 -3.91,1.25 M108.22,475.87 q1.93,-0.19 -2.54,5.83 M39.33,428.24 q0.83,0.28 2.21,-2.27 M68.63,506.53 q-0.18,-1.9 3.52,0.42 M133.71,449.45 q0.52,-0.21 2.02,2.47 M108.75,492.47 q0.74,-1.2 2.41,-6.39 M89.39,443.4 q0.86,-1.28 4.88,0.33 M64.04,460.61 q0.46,1.02 -1.65,-4.81 M79.19,506.57 q1.73,0.89 2.78,-1.86 M46.24,471.71 q-0.49,0.28 -4.68,-4.71 M139.92,507.07 q0.61,-1.18 4.56,-1.67 M120.24,509.29 q-1.15,1.6 -3.7,-4.56 M97.12,506.45 q1.42,-0.61 -2.84,6 M40.35,470.41 q-0.05,-1.89 -5.77,-1.89 M131.14,431.6 q-0.66,1.15 1.14,-3.51 M47.56,440.31 q1.36,0.76 -5.86,-0.61 M148.22,475.74 q-1.11,0.11 3.17,-1.05 M66.27,500.07 q1.37,0.24 -3.27,-3.9" stroke="#2e2e2e" stroke-width="0.9" fill="none" filter="url(#b06)" opacity="0.6"/>
<path d="M6.3,375.6 V545 M16.84,375.6 V545 M27.37,375.6 V545 M37.91,375.6 V545 M48.44,375.6 V545 M58.97,375.6 V545 M69.51,375.6 V545 M80.05,375.6 V545 M90.58,375.6 V545 M101.11,375.6 V545 M111.65,375.6 V545 M122.19,375.6 V545 M132.72,375.6 V545 M143.26,375.6 V545 M153.79,375.6 V545 M164.33,375.6 V545" stroke="#dcdcdc" stroke-width="1.2" fill="none"/>
<path d="M5.5,375.6 H168 M5.5,386.17 H168 M5.5,396.74 H168 M5.5,407.31 H168 M5.5,417.88 H168 M5.5,428.45 H168 M5.5,439.02 H168 M5.5,449.59 H168 M5.5,460.16 H168 M5.5,470.73 H168 M5.5,481.3 H168 M5.5,491.87 H168 M5.5,502.44 H168 M5.5,513.01 H168 M5.5,523.58 H168 M5.5,534.15 H168 M5.5,544.72 H168" stroke="#dcdcdc" stroke-width="1.2" fill="none"/>
<path d="M6.2,375.6 V545 M5.5,545 H168" stroke="#e4e4e4" stroke-width="1.5" fill="none"/>
<rect x="48.4" y="428.5" width="84" height="63.4" fill="none" stroke="#f2f2f2" stroke-width="2.2"/>
<rect x="59" y="439" width="9.5" height="10.6" fill="none" stroke="#e8e8e8" stroke-width="1"/>
<text x="65.6" y="450" font-size="6.5" fill="#e4e4e4" text-anchor="middle" class="sans">1</text>
<text x="114.6" y="449.3" font-size="6.5" fill="#e4e4e4" text-anchor="middle" class="sans">2</text>
</g>
<circle cx="171.7" cy="446.9" r="0.7" fill="#20a0a0"/>
<text x="10.8" y="368.4" font-size="14.8" font-weight="bold" fill="#fff" class="sans">C</text>
<clipPath id="clipC1"><rect x="177" y="352" width="160" height="193"/></clipPath>
<path d="M193.4,7 V159.4 H351.8 v-2" stroke="#7c7c7c" stroke-width="1.4" fill="none"/>
<path d="M193.4,141.2 h-1.8 M193.4,110.66 h-1.8 M193.4,80.12 h-1.8 M193.4,49.58 h-1.8 M193.4,19.04 h-1.8 M206.6,159.4 v1.6 M242.9,159.4 v1.6 M279.2,159.4 v1.6 M315.5,159.4 v1.6 M351.8,159.4 v1.6" stroke="#7c7c7c" stroke-width="0.9" fill="none"/>
<text x="189.9" y="143.12" font-size="6.2" fill="#d8d8d8" class="mono" font-weight="bold" textLength="10.2" lengthAdjust="spacingAndGlyphs" text-anchor="end">0.00</text>
<text x="189.9" y="112.58" font-size="6.2" fill="#d8d8d8" class="mono" font-weight="bold" textLength="10.2" lengthAdjust="spacingAndGlyphs" text-anchor="end">2.00</text>
<text x="189.9" y="82.04" font-size="6.2" fill="#d8d8d8" class="mono" font-weight="bold" textLength="10.2" lengthAdjust="spacingAndGlyphs" text-anchor="end">4.00</text>
<text x="189.9" y="51.5" font-size="6.2" fill="#d8d8d8" class="mono" font-weight="bold" textLength="10.2" lengthAdjust="spacingAndGlyphs" text-anchor="end">6.00</text>
<text x="189.9" y="20.96" font-size="6.2" fill="#d8d8d8" class="mono" font-weight="bold" textLength="10.2" lengthAdjust="spacingAndGlyphs" text-anchor="end">8.00</text>
<text x="206.6" y="166.35" font-size="6.2" fill="#d8d8d8" class="mono" font-weight="bold" textLength="10.2" lengthAdjust="spacingAndGlyphs" text-anchor="middle">4.00</text>
<text x="242.9" y="166.35" font-size="6.2" fill="#d8d8d8" class="mono" font-weight="bold" textLength="10.2" lengthAdjust="spacingAndGlyphs" text-anchor="middle">3.00</text>
<text x="279.2" y="166.35" font-size="6.2" fill="#d8d8d8" class="mono" font-weight="bold" textLength="10.2" lengthAdjust="spacingAndGlyphs" text-anchor="middle">2.00</text>
<text x="315.5" y="166.35" font-size="6.2" fill="#d8d8d8" class="mono" font-weight="bold" textLength="10.2" lengthAdjust="spacingAndGlyphs" text-anchor="middle">1.00</text>
<text x="351.8" y="166.35" font-size="6.2" fill="#d8d8d8" class="mono" font-weight="bold" textLength="10.2" lengthAdjust="spacingAndGlyphs" text-anchor="middle">0.00</text>
<text x="193.6" y="173.93" font-size="6.2" fill="#20a8b0" class="sans">1</text>
<text x="215.5" y="173.93" font-size="6.2" fill="#e0e0e0" class="sans" textLength="15.2" lengthAdjust="spacingAndGlyphs">Vox:72</text>
<text x="302.5" y="172.94" font-size="6.2" fill="#e0e0e0" class="sans" textLength="10.1" lengthAdjust="spacingAndGlyphs">ppm</text>
<path d="M194.2,139.87 L194.7,140.34 L195.2,140.85 L195.7,141.38 L196.2,141.9 L196.7,142.39 L197.2,142.82 L197.7,143.17 L198.2,143.4 L198.7,143.5 L199.2,143.33 L199.7,142.88 L200.2,142.26 L200.7,141.55 L201.2,140.86 L201.7,140.18 L202.2,139.33 L202.7,138.38 L203.2,137.45 L203.7,136.67 L204.2,136.14 L204.7,136 L205.2,136.75 L205.7,138.37 L206.2,140.17 L206.7,141.43 L207.2,141.48 L207.7,140.02 L208.2,137.63 L208.7,134.99 L209.2,132.79 L209.7,131.7 L210.2,132.39 L210.7,134.4 L211.2,136.7 L211.7,138.2 L212.2,138.31 L212.7,137.54 L213.2,135.72 L213.7,132.75 L214.2,128.93 L214.7,125.01 L215.2,122.09 L215.7,121.23 L216.2,123.02 L216.7,126.91 L217.2,131.7 L217.7,136.12 L218.2,139.27 L218.7,140.24 L219.2,138.88 L219.7,136.9 L220.2,134.6 L220.7,131.72 L221.2,129.1 L221.7,127.51 L222.2,127.73 L222.7,130.19 L223.2,134.18 L223.7,138.75 L224.2,142.92 L224.7,145.76 L225.2,146.53 L225.7,145.85 L226.2,144.25 L226.7,142.18 L227.2,140.12 L227.7,138.5 L228.2,137.8 L228.7,138.21 L229.2,139.4 L229.7,141.02 L230.2,142.73 L230.7,144.16 L231.2,144.95 L231.7,144.85 L232.2,143.62 L232.7,139.72 L233.2,129.88 L233.7,111.57 L234.2,89.12 L234.7,75.49 L235.2,81.2 L235.7,101.1 L236.2,121.27 L236.7,133.59 L237.2,138.68 L237.7,140.1 L238.2,140.11 L238.7,139.45 L239.2,138.12 L239.7,135.98 L240.2,133.12 L240.7,130.03 L241.2,127.55 L241.7,126.54 L242.2,127.3 L242.7,129.48 L243.2,132.29 L243.7,134.95 L244.2,137.04 L244.7,138.56 L245.2,139.88 L245.7,141.05 L246.2,141.98 L246.7,142.54 L247.2,142.5 L247.7,141.54 L248.2,139.83 L248.7,137.85 L249.2,136.1 L249.7,135.07 L250.2,135.23 L250.7,136.59 L251.2,138.73 L251.7,141.2 L252.2,143.56 L252.7,145.37 L253.2,146.11 L253.7,145.22 L254.2,143.55 L254.7,142.2 L255.2,142.2 L255.7,143.46 L256.2,145.29 L256.7,147.03 L257.2,148.03 L257.7,147.65 L258.2,145.87 L258.7,143.25 L259.2,140.38 L259.7,137.85 L260.2,136.26 L260.7,136.36 L261.2,139.36 L261.7,143.81 L262.2,147.73 L262.7,149.39 L263.2,149.76 L263.7,149.05 L264.2,146.99 L264.7,143.17 L265.2,136.55 L265.7,128.54 L266.2,120.98 L266.7,115.75 L267.2,114.64 L267.7,117.82 L268.2,123.64 L268.7,130.42 L269.2,136.45 L269.7,140.33 L270.2,143.63 L270.7,146.81 L271.2,149.78 L271.7,152.41 L272.2,154.61 L272.7,156.26 L273.2,157.26 L273.7,157.26 L274.2,154.55 L274.7,150 L275.2,145.04 L275.7,140.75 L276.2,136.08 L276.7,125.13 L277.2,100.39 L277.7,60.28 L278.2,20.53 L278.7,8.34 L279.2,33.72 L279.7,76.11 L280.2,110.16 L280.7,127.63 L281.2,133.79 L281.7,135.37 L282.2,135.72 L282.7,135.86 L283.2,136.04 L283.7,136.3 L284.2,136.69 L284.7,137.27 L285.2,138.27 L285.7,139.51 L286.2,140.74 L286.7,141.68 L287.2,142.05 L287.7,141.66 L288.2,140.88 L288.7,140.19 L289.2,140.01 L289.7,140.34 L290.2,140.86 L290.7,141.3 L291.2,141.57 L291.7,141.64 L292.2,141.15 L292.7,140.13 L293.2,139.61 L293.7,141.06 L294.2,142.41 L294.7,141.41 L295.2,140.36 L295.7,140.61 L296.2,141.49 L296.7,142.68 L297.2,143.8 L297.7,144.58 L298.2,144.58 L298.7,143.55 L299.2,141.94 L299.7,140.94 L300.2,141.28 L300.7,142.22 L301.2,142.68 L301.7,142.57 L302.2,142.14 L302.7,141.28 L303.2,140.15 L303.7,139.63 L304.2,140.24 L304.7,141.21 L305.2,141.44 L305.7,140.32 L306.2,139.5 L306.7,139.79 L307.2,140.46 L307.7,141.11 L308.2,141.69 L308.7,142.25 L309.2,142.62 L309.7,142.75 L310.2,142.74 L310.7,142.66 L311.2,142.41 L311.7,142.28 L312.2,142.61 L312.7,142.86 L313.2,142.28 L313.7,141.1 L314.2,140.01 L314.7,139.66 L315.2,140.05 L315.7,140.35 L316.2,140.66 L316.7,140.91 L317.2,140.94 L317.7,140.71 L318.2,140.49 L318.7,140.5 L319.2,140.64 L319.7,140.85 L320.2,141.14 L320.7,141.5 L321.2,141.97 L321.7,142.45 L322.2,142.72 L322.7,142.76 L323.2,142.73 L323.7,142.84 L324.2,143.08 L324.7,143.09 L325.2,142.39 L325.7,140.94 L326.2,140 L326.7,140.54 L327.2,141.86 L327.7,142.83 L328.2,142.77 L328.7,142.19 L329.2,141.54 L329.7,140.99 L330.2,140.42 L330.7,140.16 L331.2,140.54 L331.7,141.19 L332.2,141.45 L332.7,140.5 L333.2,139.61 L333.7,140.32 L334.2,141.72 L334.7,142.87 L335.2,142.97 L335.7,142.33 L336.2,141.24 L336.7,140.11 L337.2,140.3 L337.7,141.72 L338.2,142.07 L338.7,141.19 L339.2,140.07 L339.7,139.44 L340.2,139.34 L340.7,139.49 L341.2,139.71 L341.7,140.04 L342.2,140.51 L342.7,141.23 L343.2,142.12 L343.7,142.85 L344.2,143.23 L344.7,143.29 L345.2,142.67 L345.7,140.96 L346.2,139.62 L346.7,139.28 L347.2,139.38 L347.7,139.74 L348.2,140.57 L348.7,140.83 L349.2,140.3 L349.7,139.91 L350.2,140.81 L350.7,142.42 L351.2,142.57 L351.7,142.17" stroke="#c4c4c4" stroke-width="0.75" fill="none" stroke-linejoin="round"/>
<path d="M194.2,141.19 L194.7,141.19 L195.2,141.19 L195.7,141.19 L196.2,141.19 L196.7,141.19 L197.2,141.19 L197.7,141.19 L198.2,141.19 L198.7,141.19 L199.2,141.19 L199.7,141.19 L200.2,141.19 L200.7,141.19 L201.2,141.18 L201.7,141.18 L202.2,141.18 L202.7,141.18 L203.2,141.18 L203.7,141.18 L204.2,141.18 L204.7,141.18 L205.2,141.17 L205.7,141.17 L206.2,141.17 L206.7,141.17 L207.2,141.16 L207.7,141.16 L208.2,141.15 L208.7,141.15 L209.2,141.14 L209.7,141.13 L210.2,141.11 L210.7,141.06 L211.2,140.94 L211.7,140.66 L212.2,140.02 L212.7,138.78 L213.2,136.65 L213.7,133.5 L214.2,129.55 L214.7,125.49 L215.2,122.37 L215.7,121.19 L216.2,122.37 L216.7,125.49 L217.2,129.54 L217.7,133.49 L218.2,136.64 L218.7,138.77 L219.2,140.01 L219.7,140.65 L220.2,140.93 L220.7,141.05 L221.2,141.1 L221.7,141.11 L222.2,141.12 L222.7,141.13 L223.2,141.13 L223.7,141.14 L224.2,141.14 L224.7,141.14 L225.2,141.14 L225.7,141.14 L226.2,141.13 L226.7,141.13 L227.2,141.12 L227.7,141.12 L228.2,141.11 L228.7,141.1 L229.2,141.09 L229.7,141.07 L230.2,141.05 L230.7,141.01 L231.2,140.95 L231.7,140.75 L232.2,139.9 L232.7,136.68 L233.2,127.7 L233.7,110.3 L234.2,88.65 L234.7,75.58 L235.2,81.56 L235.7,101.56 L236.2,121.72 L236.7,133.96 L237.2,138.95 L237.7,140.31 L238.2,140.33 L238.7,139.71 L239.2,138.41 L239.7,136.31 L240.2,133.49 L240.7,130.46 L241.2,128.05 L241.7,127.13 L242.2,128.07 L242.7,130.49 L243.2,133.55 L243.7,136.39 L244.2,138.52 L244.7,139.86 L245.2,140.58 L245.7,140.91 L246.2,141.05 L246.7,141.1 L247.2,141.13 L247.7,141.14 L248.2,141.14 L248.7,141.15 L249.2,141.15 L249.7,141.16 L250.2,141.16 L250.7,141.16 L251.2,141.16 L251.7,141.17 L252.2,141.17 L252.7,141.17 L253.2,141.17 L253.7,141.17 L254.2,141.17 L254.7,141.17 L255.2,141.17 L255.7,141.17 L256.2,141.17 L256.7,141.17 L257.2,141.17 L257.7,141.17 L258.2,141.17 L258.7,141.17 L259.2,141.17 L259.7,141.17 L260.2,141.17 L260.7,141.17 L261.2,141.17 L261.7,141.17 L262.2,141.17 L262.7,141.17 L263.2,141.17 L263.7,141.17 L264.2,141.17 L264.7,141.16 L265.2,141.16 L265.7,141.16 L266.2,141.16 L266.7,141.15 L267.2,141.15 L267.7,141.15 L268.2,141.14 L268.7,141.14 L269.2,141.13 L269.7,141.12 L270.2,141.12 L270.7,141.1 L271.2,141.09 L271.7,141.08 L272.2,141.06 L272.7,141.04 L273.2,141.01 L273.7,140.97 L274.2,140.91 L274.7,140.83 L275.2,140.65 L275.7,139.96 L276.2,137.01 L276.7,127.03 L277.2,102.78 L277.7,62.9 L278.2,23.35 L278.7,11.53 L279.2,37.36 L279.7,80.16 L280.2,114.57 L280.7,132.32 L281.2,138.68 L281.7,140.36 L282.2,140.75 L282.7,140.87 L283.2,140.94 L283.7,140.99 L284.2,141.02 L284.7,141.05 L285.2,141.07 L285.7,141.09 L286.2,141.1 L286.7,141.11 L287.2,141.12 L287.7,141.13 L288.2,141.14 L288.7,141.14 L289.2,141.15 L289.7,141.15 L290.2,141.16 L290.7,141.16 L291.2,141.17 L291.7,141.17 L292.2,141.17 L292.7,141.18 L293.2,141.18 L293.7,141.18 L294.2,141.19 L294.7,141.22 L295.2,141.3 L295.7,141.53 L296.2,142.02 L296.7,142.84 L297.2,143.81 L297.7,144.54 L298.2,144.62 L298.7,143.99 L299.2,143.03 L299.7,142.17 L300.2,141.61 L300.7,141.34 L301.2,141.24 L301.7,141.21 L302.2,141.2 L302.7,141.2 L303.2,141.2 L303.7,141.2 L304.2,141.2 L304.7,141.2 L305.2,141.19 L305.7,141.19 L306.2,141.19 L306.7,141.19 L307.2,141.19 L307.7,141.19 L308.2,141.19 L308.7,141.19 L309.2,141.19 L309.7,141.19 L310.2,141.19 L310.7,141.19 L311.2,141.19 L311.7,141.19 L312.2,141.19 L312.7,141.2 L313.2,141.2 L313.7,141.2 L314.2,141.2 L314.7,141.2 L315.2,141.2 L315.7,141.2 L316.2,141.2 L316.7,141.2 L317.2,141.2 L317.7,141.2 L318.2,141.2 L318.7,141.2 L319.2,141.2 L319.7,141.2 L320.2,141.2 L320.7,141.2 L321.2,141.2 L321.7,141.2 L322.2,141.2 L322.7,141.2 L323.2,141.2 L323.7,141.2 L324.2,141.2 L324.7,141.2 L325.2,141.2 L325.7,141.2 L326.2,141.2 L326.7,141.2 L327.2,141.2 L327.7,141.2 L328.2,141.2 L328.7,141.2 L329.2,141.2 L329.7,141.2 L330.2,141.2 L330.7,141.2 L331.2,141.2 L331.7,141.2 L332.2,141.2 L332.7,141.2 L333.2,141.2 L333.7,141.2 L334.2,141.2 L334.7,141.2 L335.2,141.2 L335.7,141.2 L336.2,141.2 L336.7,141.2 L337.2,141.2 L337.7,141.2 L338.2,141.2 L338.7,141.2 L339.2,141.2 L339.7,141.2 L340.2,141.2 L340.7,141.2 L341.2,141.2 L341.7,141.2 L342.2,141.2 L342.7,141.2 L343.2,141.2 L343.7,141.2 L344.2,141.2 L344.7,141.2 L345.2,141.2 L345.7,141.2 L346.2,141.2 L346.7,141.2 L347.2,141.2 L347.7,141.2 L348.2,141.2 L348.7,141.2 L349.2,141.2 L349.7,141.2 L350.2,141.2 L350.7,141.2 L351.2,141.2 L351.7,141.2" stroke="#b03028" stroke-width="1.0" fill="none" stroke-linejoin="round"/>
<path d="M273.1,16.2 L277.9,19.2" stroke="#10a0b0" stroke-width="0.9"/>
<text x="267.1" y="10.04" font-size="6.3" fill="#c8c230" class="mono" font-weight="bold" textLength="9" lengthAdjust="spacingAndGlyphs">NAA</text>
<text x="260.7" y="16.04" font-size="6.3" fill="#c8c230" class="mono" font-weight="bold" textLength="25.6" lengthAdjust="spacingAndGlyphs">I: 131.95</text>
<path d="M231.9,67.9 L235.3,74.1" stroke="#10a0b0" stroke-width="0.9"/>
<text x="227.7" y="61.23" font-size="6.3" fill="#c8c230" class="mono" font-weight="bold" textLength="8.4" lengthAdjust="spacingAndGlyphs">Cho</text>
<text x="220.9" y="67.93" font-size="6.3" fill="#c8c230" class="mono" font-weight="bold" textLength="22.3" lengthAdjust="spacingAndGlyphs">I: 74.50</text>
<path d="M212.8,115.6 L215.5,121" stroke="#10a0b0" stroke-width="0.9"/>
<text x="208.8" y="107.83" font-size="6.3" fill="#c8c230" class="mono" font-weight="bold" textLength="7.9" lengthAdjust="spacingAndGlyphs">Cr2</text>
<text x="202" y="114.03" font-size="6.3" fill="#c8c230" class="mono" font-weight="bold" textLength="21.5" lengthAdjust="spacingAndGlyphs">I: 34.27</text>
<path d="M252.2,121 L241.5,127" stroke="#10a0b0" stroke-width="0.9"/>
<text x="251.3" y="113.73" font-size="6.3" fill="#c8c230" class="mono" font-weight="bold" textLength="4.7" lengthAdjust="spacingAndGlyphs">Cr</text>
<text x="242.9" y="120.43" font-size="6.3" fill="#c8c230" class="mono" font-weight="bold" textLength="21.9" lengthAdjust="spacingAndGlyphs">I: 25.60</text>
<path d="M365.3,5.7 V157.2 H522.5 v-2" stroke="#7c7c7c" stroke-width="1.4" fill="none"/>
<path d="M365.3,139.3 h-1.8 M365.3,108.86 h-1.8 M365.3,78.42 h-1.8 M365.3,47.98 h-1.8 M365.3,17.54 h-1.8 M378.3,157.2 v1.6 M414.35,157.2 v1.6 M450.4,157.2 v1.6 M486.45,157.2 v1.6 M522.5,157.2 v1.6" stroke="#7c7c7c" stroke-width="0.9" fill="none"/>
<text x="378.3" y="164.95" font-size="6.2" fill="#d8d8d8" class="mono" font-weight="bold" textLength="10.2" lengthAdjust="spacingAndGlyphs" text-anchor="middle">4.00</text>
<text x="414.35" y="164.95" font-size="6.2" fill="#d8d8d8" class="mono" font-weight="bold" textLength="10.2" lengthAdjust="spacingAndGlyphs" text-anchor="middle">3.00</text>
<text x="450.4" y="164.95" font-size="6.2" fill="#d8d8d8" class="mono" font-weight="bold" textLength="10.2" lengthAdjust="spacingAndGlyphs" text-anchor="middle">2.00</text>
<text x="486.45" y="164.95" font-size="6.2" fill="#d8d8d8" class="mono" font-weight="bold" textLength="10.2" lengthAdjust="spacingAndGlyphs" text-anchor="middle">1.00</text>
<text x="522.5" y="164.95" font-size="6.2" fill="#d8d8d8" class="mono" font-weight="bold" textLength="10.2" lengthAdjust="spacingAndGlyphs" text-anchor="middle">0.00</text>
<text x="365.2" y="172.23" font-size="6.2" fill="#20a8b0" class="sans">2</text>
<text x="387" y="172.23" font-size="6.2" fill="#e0e0e0" class="sans" textLength="16.1" lengthAdjust="spacingAndGlyphs">Vox:73</text>
<text x="473.5" y="171.24" font-size="6.2" fill="#e0e0e0" class="sans" textLength="10.1" lengthAdjust="spacingAndGlyphs">ppm</text>
<path d="M366.1,138.25 L366.6,137.94 L367.1,137.58 L367.6,137.34 L368.1,137.35 L368.6,137.69 L369.1,138.2 L369.6,138.85 L370.1,139.6 L370.6,140.42 L371.1,141.29 L371.6,142.66 L372.1,144.35 L372.6,145.8 L373.1,146.49 L373.6,145.87 L374.1,143.92 L374.6,141.15 L375.1,138.1 L375.6,135.31 L376.1,133.35 L376.6,132.93 L377.1,134.04 L377.6,135.47 L378.1,136 L378.6,135.1 L379.1,133.47 L379.6,131.73 L380.1,130.52 L380.6,130.39 L381.1,131.15 L381.6,132.41 L382.1,133.87 L382.6,135.18 L383.1,135.95 L383.6,135.91 L384.1,135.12 L384.6,133.33 L385.1,130.47 L385.6,126.77 L386.1,122.94 L386.6,120.05 L387.1,119.1 L387.6,120.65 L388.1,124.19 L388.6,128.56 L389.1,132.57 L389.6,135.34 L390.1,136.32 L390.6,135.2 L391.1,132.96 L391.6,130.68 L392.1,128.6 L392.6,126.31 L393.1,124.92 L393.6,125.53 L394.1,128.53 L394.6,132.88 L395.1,137.41 L395.6,140.95 L396.1,142.41 L396.6,142.2 L397.1,140.99 L397.6,139.34 L398.1,137.81 L398.6,136.94 L399.1,137.08 L399.6,137.85 L400.1,138.98 L400.6,140.16 L401.1,141.1 L401.6,141.91 L402.1,142.77 L402.6,143.44 L403.1,143.71 L403.6,143.12 L404.1,140.72 L404.6,134.33 L405.1,121.14 L405.6,101.94 L406.1,85.44 L406.6,83.33 L407.1,96.92 L407.6,115.59 L408.1,129.35 L408.6,136.11 L409.1,138.51 L409.6,139.05 L410.1,138.66 L410.6,137.45 L411.1,135.3 L411.6,132.19 L412.1,128.51 L412.6,125.12 L413.1,123.06 L413.6,123.03 L414.1,124.85 L414.6,127.76 L415.1,130.84 L415.6,133.42 L416.1,135.34 L416.6,136.92 L417.1,138.26 L417.6,139.32 L418.1,139.95 L418.6,139.94 L419.1,139.27 L419.6,138.18 L420.1,136.9 L420.6,135.63 L421.1,134.59 L421.6,134 L422.1,134.09 L422.6,135.16 L423.1,137.02 L423.6,139.25 L424.1,141.44 L424.6,143.19 L425.1,144.1 L425.6,144.28 L426.1,143.98 L426.6,143.35 L427.1,142.53 L427.6,141.65 L428.1,140.84 L428.6,139.72 L429.1,138.29 L429.6,136.84 L430.1,135.63 L430.6,134.96 L431.1,135.11 L431.6,136.29 L432.1,138.27 L432.6,140.69 L433.1,143.18 L433.6,145.39 L434.1,146.95 L434.6,147.52 L435.1,146.69 L435.6,143.68 L436.1,138.83 L436.6,132.97 L437.1,126.91 L437.6,121.5 L438.1,117.55 L438.6,115.89 L439.1,116.81 L439.6,119.71 L440.1,123.85 L440.6,128.53 L441.1,133.02 L441.6,136.65 L442.1,140.2 L442.6,143.97 L443.1,147.62 L443.6,150.85 L444.1,153.3 L444.6,154.65 L445.1,154.19 L445.6,152.26 L446.1,149.65 L446.6,147 L447.1,144.2 L447.6,138.33 L448.1,124.09 L448.6,96.05 L449.1,58.18 L449.6,29.89 L450.1,31.75 L450.6,60.73 L451.1,94.41 L451.6,116.28 L452.1,125.32 L452.6,127.64 L453.1,128.06 L453.6,128.66 L454.1,129.75 L454.6,131.19 L455.1,132.73 L455.6,134.14 L456.1,135.16 L456.6,135.79 L457.1,136.2 L457.6,136.59 L458.1,137.13 L458.6,137.86 L459.1,138.67 L459.6,139.45 L460.1,140.1 L460.6,140.52 L461.1,140.73 L461.6,140.86 L462.1,140.97 L462.6,140.97 L463.1,140.68 L463.6,139.59 L464.1,139.16 L464.6,139.47 L465.1,139.97 L465.6,140.31 L466.1,140.43 L466.6,140.53 L467.1,140.81 L467.6,141.55 L468.1,142.22 L468.6,142.27 L469.1,141.91 L469.6,141.19 L470.1,139.47 L470.6,138.98 L471.1,140.34 L471.6,141.34 L472.1,141.15 L472.6,140.79 L473.1,141.3 L473.6,143.01 L474.1,144.97 L474.6,146.13 L475.1,146.39 L475.6,146.35 L476.1,146.61 L476.6,146.4 L477.1,143.78 L477.6,140.8 L478.1,140.1 L478.6,140.34 L479.1,140.78 L479.6,140.93 L480.1,141.03 L480.6,140.84 L481.1,140.32 L481.6,139.94 L482.1,140.24 L482.6,140.82 L483.1,141.05 L483.6,141.16 L484.1,140.97 L484.6,140.29 L485.1,139.36 L485.6,138.59 L486.1,138.26 L486.6,138.15 L487.1,137.89 L487.6,137.66 L488.1,138.18 L488.6,139.22 L489.1,139.86 L489.6,140 L490.1,139.62 L490.6,138.88 L491.1,138.6 L491.6,138.79 L492.1,139.11 L492.6,139.28 L493.1,139.35 L493.6,139.17 L494.1,138.61 L494.6,137.97 L495.1,137.6 L495.6,137.37 L496.1,137.35 L496.6,137.71 L497.1,138.75 L497.6,139.99 L498.1,140.67 L498.6,140.48 L499.1,140.22 L499.6,139.96 L500.1,139.37 L500.6,137.96 L501.1,138.07 L501.6,140.05 L502.1,141.03 L502.6,140.52 L503.1,140.24 L503.6,140.55 L504.1,140.89 L504.6,140.81 L505.1,139.73 L505.6,138.8 L506.1,139.1 L506.6,139.93 L507.1,140.35 L507.6,140.23 L508.1,140.23 L508.6,140.35 L509.1,140.52 L509.6,140.74 L510.1,141 L510.6,140.19 L511.1,138.83 L511.6,139.03 L512.1,140.04 L512.6,140.83 L513.1,141.06 L513.6,140.91 L514.1,140.25 L514.6,139.24 L515.1,138.51 L515.6,138.25 L516.1,138.14 L516.6,137.9 L517.1,138.09 L517.6,139.34 L518.1,140.72 L518.6,140.86 L519.1,138.73 L519.6,137.63 L520.1,138.11 L520.6,138.97 L521.1,139.43 L521.6,139.1 L522.1,138.49" stroke="#c4c4c4" stroke-width="0.75" fill="none" stroke-linejoin="round"/>
<path d="M366.1,139.29 L366.6,139.29 L367.1,139.29 L367.6,139.29 L368.1,139.29 L368.6,139.29 L369.1,139.29 L369.6,139.29 L370.1,139.29 L370.6,139.29 L371.1,139.29 L371.6,139.29 L372.1,139.29 L372.6,139.29 L373.1,139.28 L373.6,139.28 L374.1,139.28 L374.6,139.28 L375.1,139.28 L375.6,139.28 L376.1,139.28 L376.6,139.28 L377.1,139.27 L377.6,139.27 L378.1,139.27 L378.6,139.26 L379.1,139.26 L379.6,139.26 L380.1,139.25 L380.6,139.24 L381.1,139.23 L381.6,139.21 L382.1,139.17 L382.6,139.05 L383.1,138.77 L383.6,138.15 L384.1,136.94 L384.6,134.86 L385.1,131.79 L385.6,127.94 L386.1,123.98 L386.6,120.94 L387.1,119.79 L387.6,120.94 L388.1,123.98 L388.6,127.94 L389.1,131.79 L389.6,134.86 L390.1,136.93 L390.6,138.15 L391.1,138.76 L391.6,139.04 L392.1,139.16 L392.6,139.2 L393.1,139.22 L393.6,139.23 L394.1,139.23 L394.6,139.24 L395.1,139.24 L395.6,139.24 L396.1,139.24 L396.6,139.24 L397.1,139.24 L397.6,139.24 L398.1,139.24 L398.6,139.23 L399.1,139.23 L399.6,139.22 L400.1,139.21 L400.6,139.2 L401.1,139.19 L401.6,139.17 L402.1,139.15 L402.6,139.11 L403.1,139.01 L403.6,138.6 L404.1,136.93 L404.6,131.62 L405.1,119.63 L405.6,101.56 L406.1,85.92 L406.6,84.18 L407.1,97.83 L407.6,116.33 L408.1,129.79 L408.6,136.18 L409.1,138.23 L409.6,138.51 L410.1,138.03 L410.6,136.86 L411.1,134.82 L411.6,131.88 L412.1,128.41 L412.6,125.24 L413.1,123.41 L413.6,123.64 L414.1,125.82 L414.6,129.15 L415.1,132.59 L415.6,135.39 L416.1,137.27 L416.6,138.34 L417.1,138.87 L417.6,139.09 L418.1,139.18 L418.6,139.22 L419.1,139.23 L419.6,139.24 L420.1,139.25 L420.6,139.25 L421.1,139.25 L421.6,139.26 L422.1,139.26 L422.6,139.26 L423.1,139.27 L423.6,139.27 L424.1,139.27 L424.6,139.27 L425.1,139.27 L425.6,139.27 L426.1,139.27 L426.6,139.27 L427.1,139.27 L427.6,139.28 L428.1,139.28 L428.6,139.28 L429.1,139.28 L429.6,139.28 L430.1,139.28 L430.6,139.28 L431.1,139.28 L431.6,139.28 L432.1,139.27 L432.6,139.27 L433.1,139.27 L433.6,139.27 L434.1,139.27 L434.6,139.27 L435.1,139.27 L435.6,139.27 L436.1,139.27 L436.6,139.27 L437.1,139.26 L437.6,139.26 L438.1,139.26 L438.6,139.26 L439.1,139.25 L439.6,139.25 L440.1,139.24 L440.6,139.24 L441.1,139.23 L441.6,139.22 L442.1,139.21 L442.6,139.2 L443.1,139.19 L443.6,139.17 L444.1,139.15 L444.6,139.12 L445.1,139.09 L445.6,139.03 L446.1,138.95 L446.6,138.7 L447.1,137.63 L447.6,133.4 L448.1,120.79 L448.6,94.36 L449.1,58.06 L449.6,31.29 L450.1,34.68 L450.6,65.36 L451.1,100.79 L451.6,124.3 L452.1,134.71 L452.6,137.98 L453.1,138.78 L453.6,138.97 L454.1,139.05 L454.6,139.1 L455.1,139.13 L455.6,139.16 L456.1,139.18 L456.6,139.19 L457.1,139.21 L457.6,139.22 L458.1,139.23 L458.6,139.24 L459.1,139.24 L459.6,139.25 L460.1,139.25 L460.6,139.26 L461.1,139.26 L461.6,139.26 L462.1,139.27 L462.6,139.27 L463.1,139.27 L463.6,139.27 L464.1,139.27 L464.6,139.28 L465.1,139.28 L465.6,139.28 L466.1,139.28 L466.6,139.28 L467.1,139.28 L467.6,139.28 L468.1,139.28 L468.6,139.28 L469.1,139.29 L469.6,139.29 L470.1,139.29 L470.6,139.29 L471.1,139.29 L471.6,139.29 L472.1,139.29 L472.6,139.29 L473.1,139.29 L473.6,139.29 L474.1,139.29 L474.6,139.29 L475.1,139.29 L475.6,139.29 L476.1,139.29 L476.6,139.29 L477.1,139.29 L477.6,139.29 L478.1,139.29 L478.6,139.29 L479.1,139.29 L479.6,139.29 L480.1,139.29 L480.6,139.29 L481.1,139.29 L481.6,139.29 L482.1,139.29 L482.6,139.29 L483.1,139.29 L483.6,139.29 L484.1,139.29 L484.6,139.3 L485.1,139.3 L485.6,139.3 L486.1,139.3 L486.6,139.3 L487.1,139.3 L487.6,139.3 L488.1,139.3 L488.6,139.3 L489.1,139.3 L489.6,139.3 L490.1,139.3 L490.6,139.3 L491.1,139.3 L491.6,139.3 L492.1,139.3 L492.6,139.3 L493.1,139.3 L493.6,139.3 L494.1,139.3 L494.6,139.3 L495.1,139.3 L495.6,139.3 L496.1,139.3 L496.6,139.3 L497.1,139.3 L497.6,139.3 L498.1,139.3 L498.6,139.3 L499.1,139.3 L499.6,139.3 L500.1,139.3 L500.6,139.3 L501.1,139.3 L501.6,139.3 L502.1,139.3 L502.6,139.3 L503.1,139.3 L503.6,139.3 L504.1,139.3 L504.6,139.3 L505.1,139.3 L505.6,139.3 L506.1,139.3 L506.6,139.3 L507.1,139.3 L507.6,139.3 L508.1,139.3 L508.6,139.3 L509.1,139.3 L509.6,139.3 L510.1,139.3 L510.6,139.3 L511.1,139.3 L511.6,139.3 L512.1,139.3 L512.6,139.3 L513.1,139.3 L513.6,139.3 L514.1,139.3 L514.6,139.3 L515.1,139.3 L515.6,139.3 L516.1,139.3 L516.6,139.3 L517.1,139.3 L517.6,139.3 L518.1,139.3 L518.6,139.3 L519.1,139.3 L519.6,139.3 L520.1,139.3 L520.6,139.3 L521.1,139.3 L521.6,139.3 L522.1,139.3" stroke="#b03028" stroke-width="1.0" fill="none" stroke-linejoin="round"/>
<path d="M450.7,31.9 L458.3,29.7" stroke="#10a0b0" stroke-width="0.9"/>
<text x="454" y="23.23" font-size="6.3" fill="#c8c230" class="mono" font-weight="bold" textLength="8.8" lengthAdjust="spacingAndGlyphs">NAA</text>
<text x="446" y="29.64" font-size="6.3" fill="#c8c230" class="mono" font-weight="bold" textLength="25" lengthAdjust="spacingAndGlyphs">I: 123.57</text>
<path d="M406.6,83.6 L411,82.6" stroke="#10a0b0" stroke-width="0.9"/>
<text x="405.9" y="76.43" font-size="6.3" fill="#c8c230" class="mono" font-weight="bold" textLength="9" lengthAdjust="spacingAndGlyphs">Cho</text>
<text x="398.5" y="82.83" font-size="6.3" fill="#c8c230" class="mono" font-weight="bold" textLength="23.1" lengthAdjust="spacingAndGlyphs">I: 63.69</text>
<path d="M387.1,116.5 L387.1,119" stroke="#10a0b0" stroke-width="0.9"/>
<text x="382.9" y="109.53" font-size="6.3" fill="#c8c230" class="mono" font-weight="bold" textLength="8.4" lengthAdjust="spacingAndGlyphs">Cr2</text>
<text x="377" y="117.13" font-size="6.3" fill="#c8c230" class="mono" font-weight="bold" textLength="22.3" lengthAdjust="spacingAndGlyphs">I: 34.56</text>
<path d="M413.5,123 L433,120.2" stroke="#10a0b0" stroke-width="0.9"/>
<text x="430.2" y="113.23" font-size="6.3" fill="#c8c230" class="mono" font-weight="bold" textLength="4.2" lengthAdjust="spacingAndGlyphs">Cr</text>
<text x="422.2" y="120.43" font-size="6.3" fill="#c8c230" class="mono" font-weight="bold" textLength="22.3" lengthAdjust="spacingAndGlyphs">I: 28.95</text>
<path d="M196.2,180 V332.5 H353.5 v-2" stroke="#7c7c7c" stroke-width="1.4" fill="none"/>
<path d="M196.2,315.5 h-1.8 M196.2,268.8 h-1.8 M196.2,222.1 h-1.8 M209.3,332.5 v1.6 M245.35,332.5 v1.6 M281.4,332.5 v1.6 M317.45,332.5 v1.6 M353.5,332.5 v1.6" stroke="#7c7c7c" stroke-width="0.9" fill="none"/>
<text x="192.7" y="317.42" font-size="6.2" fill="#d8d8d8" class="mono" font-weight="bold" textLength="10.4" lengthAdjust="spacingAndGlyphs" text-anchor="end">0.00</text>
<text x="192.7" y="270.72" font-size="6.2" fill="#d8d8d8" class="mono" font-weight="bold" textLength="10.4" lengthAdjust="spacingAndGlyphs" text-anchor="end">5.00</text>
<text x="192.7" y="224.02" font-size="6.2" fill="#d8d8d8" class="mono" font-weight="bold" textLength="13" lengthAdjust="spacingAndGlyphs" text-anchor="end">10.00</text>
<text x="209.3" y="340.25" font-size="6.2" fill="#d8d8d8" class="mono" font-weight="bold" textLength="10.4" lengthAdjust="spacingAndGlyphs" text-anchor="middle">4.00</text>
<text x="245.35" y="340.25" font-size="6.2" fill="#d8d8d8" class="mono" font-weight="bold" textLength="10.4" lengthAdjust="spacingAndGlyphs" text-anchor="middle">3.00</text>
<text x="281.4" y="340.25" font-size="6.2" fill="#d8d8d8" class="mono" font-weight="bold" textLength="10.4" lengthAdjust="spacingAndGlyphs" text-anchor="middle">2.00</text>
<text x="317.45" y="340.25" font-size="6.2" fill="#d8d8d8" class="mono" font-weight="bold" textLength="10.4" lengthAdjust="spacingAndGlyphs" text-anchor="middle">1.00</text>
<text x="353.5" y="340.25" font-size="6.2" fill="#d8d8d8" class="mono" font-weight="bold" textLength="10.4" lengthAdjust="spacingAndGlyphs" text-anchor="middle">0.00</text>
<text x="196.3" y="346.93" font-size="6.2" fill="#20a8b0" class="sans">1</text>
<text x="218" y="346.93" font-size="6.2" fill="#e0e0e0" class="sans" textLength="18.5" lengthAdjust="spacingAndGlyphs">Vox:184</text>
<text x="304" y="345.94" font-size="6.2" fill="#e0e0e0" class="sans" textLength="10.2" lengthAdjust="spacingAndGlyphs">ppm</text>
<path d="M197,313.1 L197.5,313.11 L198,313.04 L198.5,313.04 L199,313.28 L199.5,313.9 L200,314.91 L200.5,316.16 L201,317.5 L201.5,318.78 L202,319.83 L202.5,320.52 L203,320.73 L203.5,320.53 L204,320.03 L204.5,319.31 L205,318.48 L205.5,317.62 L206,316.4 L206.5,314.9 L207,313.43 L207.5,312.3 L208,311.52 L208.5,310.85 L209,310.08 L209.5,308.94 L210,307.36 L210.5,305.7 L211,304.31 L211.5,303.56 L212,303.8 L212.5,305.58 L213,308.68 L213.5,312.33 L214,315.71 L214.5,317.93 L215,318.1 L215.5,316.31 L216,312.89 L216.5,308.35 L217,303.62 L217.5,299.94 L218,298.5 L218.5,299.96 L219,303.72 L219.5,308.46 L220,312.79 L220.5,315.67 L221,316.25 L221.5,314.56 L222,311.71 L222.5,308.57 L223,304.21 L223.5,299.5 L224,295.76 L224.5,294.3 L225,297.2 L225.5,304.55 L226,312.57 L226.5,317.4 L227,318.31 L227.5,317.6 L228,316 L228.5,314.21 L229,312.93 L229.5,312.78 L230,313.38 L230.5,314.37 L231,315.56 L231.5,316.74 L232,317.7 L232.5,318.26 L233,318.34 L233.5,318.18 L234,317.78 L234.5,316.83 L235,314.21 L235.5,307.28 L236,293.33 L236.5,274.42 L237,260.49 L237.5,262.13 L238,277.9 L238.5,296.24 L239,308.52 L239.5,314.02 L240,315.65 L240.5,315.72 L241,315.08 L241.5,313.74 L242,311.51 L242.5,308.37 L243,304.71 L243.5,301.39 L244,299.45 L244.5,299.64 L245,301.92 L245.5,305.4 L246,309 L246.5,311.93 L247,313.85 L247.5,314.81 L248,315.03 L248.5,314.6 L249,313.57 L249.5,312.2 L250,310.69 L250.5,309.26 L251,308.08 L251.5,307.33 L252,307.2 L252.5,308.07 L253,311.4 L253.5,316.25 L254,321.16 L254.5,324.64 L255,325.34 L255.5,323.53 L256,320.58 L256.5,317.9 L257,316.9 L257.5,318.43 L258,321.58 L258.5,325.07 L259,327.65 L259.5,327.99 L260,324.17 L260.5,318.27 L261,313.75 L261.5,313.1 L262,314.12 L262.5,316.02 L263,318.37 L263.5,320.7 L264,322.56 L264.5,323.5 L265,323.48 L265.5,322.75 L266,321.31 L266.5,319.15 L267,316.21 L267.5,311.16 L268,304.73 L268.5,298.72 L269,294.91 L269.5,294.63 L270,296.72 L270.5,300.33 L271,304.74 L271.5,309.24 L272,313.1 L272.5,316.8 L273,320.95 L273.5,325.02 L274,328.47 L274.5,330.78 L275,331.45 L275.5,330.54 L276,328.48 L276.5,325.71 L277,322.61 L277.5,319.33 L278,314.9 L278.5,304.83 L279,282.17 L279.5,243.57 L280,200.98 L280.5,180.8 L281,198.4 L281.5,238.28 L282,274.17 L282.5,294.27 L283,302.06 L283.5,304.45 L284,305.54 L284.5,306.56 L285,307.66 L285.5,308.76 L286,309.73 L286.5,310.54 L287,311.33 L287.5,312.06 L288,312.69 L288.5,313.19 L289,313.53 L289.5,313.75 L290,313.91 L290.5,314.03 L291,314.15 L291.5,314.21 L292,314.23 L292.5,314.21 L293,314.12 L293.5,313.95 L294,313.94 L294.5,314.28 L295,314.78 L295.5,315.17 L296,315.46 L296.5,315.53 L297,315.39 L297.5,314.81 L298,314.42 L298.5,315.81 L299,317.92 L299.5,318.61 L300,317.32 L300.5,316.99 L301,317.61 L301.5,318.12 L302,317.75 L302.5,317.09 L303,317.23 L303.5,318.44 L304,319.95 L304.5,321.03 L305,321.51 L305.5,321.57 L306,321.06 L306.5,318.94 L307,316.89 L307.5,316.83 L308,317.21 L308.5,316.75 L309,315.99 L309.5,315.58 L310,315.32 L310.5,315.01 L311,314.53 L311.5,314.04 L312,313.91 L312.5,314.2 L313,314.14 L313.5,313.89 L314,313.52 L314.5,312.93 L315,312.22 L315.5,311.74 L316,311.37 L316.5,311.74 L317,313.08 L317.5,314.8 L318,316.27 L318.5,317.32 L319,318.58 L319.5,320.83 L320,322.69 L320.5,322.22 L321,319.81 L321.5,317.33 L322,315.91 L322.5,314.87 L323,314.27 L323.5,314.47 L324,315.73 L324.5,316.44 L325,315.87 L325.5,315.46 L326,315.89 L326.5,316.11 L327,316.04 L327.5,315.87 L328,315.63 L328.5,315.22 L329,314.89 L329.5,314.9 L330,315.33 L330.5,315.77 L331,315.76 L331.5,315.42 L332,315.36 L332.5,315.92 L333,316.69 L333.5,317.11 L334,316.78 L334.5,316.21 L335,316.03 L335.5,316.16 L336,316.55 L336.5,317.13 L337,317.26 L337.5,316.49 L338,315.36 L338.5,314.71 L339,315.22 L339.5,316.02 L340,315.97 L340.5,315.41 L341,314.63 L341.5,314.1 L342,315.21 L342.5,316.46 L343,315.54 L343.5,314.59 L344,315.46 L344.5,316.67 L345,316.46 L345.5,315.39 L346,315.6 L346.5,316.4 L347,316.92 L347.5,317.06 L348,317 L348.5,316.7 L349,315.77 L349.5,315.2 L350,315.97 L350.5,316.86 L351,316.49 L351.5,315.48 L352,314.49 L352.5,314.15 L353,314.42 L353.5,314.53" stroke="#c4c4c4" stroke-width="0.75" fill="none" stroke-linejoin="round"/>
<path d="M197,315.49 L197.5,315.49 L198,315.49 L198.5,315.49 L199,315.49 L199.5,315.49 L200,315.49 L200.5,315.49 L201,315.49 L201.5,315.49 L202,315.49 L202.5,315.49 L203,315.49 L203.5,315.49 L204,315.49 L204.5,315.48 L205,315.48 L205.5,315.48 L206,315.48 L206.5,315.48 L207,315.48 L207.5,315.48 L208,315.48 L208.5,315.47 L209,315.47 L209.5,315.47 L210,315.46 L210.5,315.46 L211,315.46 L211.5,315.45 L212,315.44 L212.5,315.42 L213,315.38 L213.5,315.28 L214,315.03 L214.5,314.48 L215,313.41 L215.5,311.56 L216,308.84 L216.5,305.42 L217,301.91 L217.5,299.21 L218,298.19 L218.5,299.21 L219,301.91 L219.5,305.42 L220,308.83 L220.5,311.56 L221,313.4 L221.5,314.47 L222,315.02 L222.5,315.27 L223,315.37 L223.5,315.41 L224,315.43 L224.5,315.43 L225,315.44 L225.5,315.44 L226,315.44 L226.5,315.44 L227,315.45 L227.5,315.44 L228,315.44 L228.5,315.44 L229,315.44 L229.5,315.43 L230,315.43 L230.5,315.42 L231,315.41 L231.5,315.4 L232,315.39 L232.5,315.37 L233,315.34 L233.5,315.3 L234,315.17 L234.5,314.62 L235,312.47 L235.5,306.03 L236,292.55 L236.5,274.04 L237,260.39 L237.5,262.11 L238,277.75 L238.5,295.81 L239,307.78 L239.5,313.05 L240,314.61 L240.5,314.75 L241,314.24 L241.5,313.06 L242,311.03 L242.5,308.08 L243,304.61 L243.5,301.44 L244,299.62 L244.5,299.84 L245,302.02 L245.5,305.35 L246,308.79 L246.5,311.59 L247,313.47 L247.5,314.54 L248,315.07 L248.5,315.29 L249,315.38 L249.5,315.41 L250,315.43 L250.5,315.44 L251,315.45 L251.5,315.45 L252,315.45 L252.5,315.46 L253,315.46 L253.5,315.46 L254,315.47 L254.5,315.47 L255,315.47 L255.5,315.47 L256,315.47 L256.5,315.47 L257,315.47 L257.5,315.47 L258,315.47 L258.5,315.47 L259,315.47 L259.5,315.47 L260,315.47 L260.5,315.47 L261,315.47 L261.5,315.47 L262,315.47 L262.5,315.47 L263,315.47 L263.5,315.47 L264,315.47 L264.5,315.47 L265,315.47 L265.5,315.47 L266,315.47 L266.5,315.46 L267,315.46 L267.5,315.46 L268,315.46 L268.5,315.46 L269,315.45 L269.5,315.45 L270,315.44 L270.5,315.44 L271,315.43 L271.5,315.43 L272,315.42 L272.5,315.41 L273,315.4 L273.5,315.38 L274,315.37 L274.5,315.35 L275,315.32 L275.5,315.28 L276,315.23 L276.5,315.16 L277,315.02 L277.5,314.52 L278,312.34 L278.5,304.54 L279,284.2 L279.5,247.81 L280,207.17 L280.5,188.5 L281,207.17 L281.5,247.82 L282,284.2 L282.5,304.54 L283,312.34 L283.5,314.52 L284,315.02 L284.5,315.17 L285,315.24 L285.5,315.28 L286,315.32 L286.5,315.35 L287,315.37 L287.5,315.39 L288,315.4 L288.5,315.41 L289,315.42 L289.5,315.43 L290,315.44 L290.5,315.44 L291,315.45 L291.5,315.45 L292,315.46 L292.5,315.46 L293,315.47 L293.5,315.47 L294,315.47 L294.5,315.47 L295,315.48 L295.5,315.48 L296,315.49 L296.5,315.5 L297,315.54 L297.5,315.65 L298,315.92 L298.5,316.41 L299,317.08 L299.5,317.72 L300,317.98 L300.5,317.72 L301,317.09 L301.5,316.41 L302,315.92 L302.5,315.66 L303,315.55 L303.5,315.51 L304,315.5 L304.5,315.5 L305,315.5 L305.5,315.49 L306,315.49 L306.5,315.49 L307,315.49 L307.5,315.49 L308,315.49 L308.5,315.49 L309,315.49 L309.5,315.49 L310,315.49 L310.5,315.49 L311,315.49 L311.5,315.49 L312,315.49 L312.5,315.49 L313,315.49 L313.5,315.49 L314,315.49 L314.5,315.49 L315,315.5 L315.5,315.5 L316,315.5 L316.5,315.5 L317,315.5 L317.5,315.5 L318,315.5 L318.5,315.5 L319,315.5 L319.5,315.5 L320,315.5 L320.5,315.5 L321,315.5 L321.5,315.5 L322,315.5 L322.5,315.5 L323,315.5 L323.5,315.5 L324,315.5 L324.5,315.5 L325,315.5 L325.5,315.5 L326,315.5 L326.5,315.5 L327,315.5 L327.5,315.5 L328,315.5 L328.5,315.5 L329,315.5 L329.5,315.5 L330,315.5 L330.5,315.5 L331,315.5 L331.5,315.5 L332,315.5 L332.5,315.5 L333,315.5 L333.5,315.5 L334,315.5 L334.5,315.5 L335,315.5 L335.5,315.5 L336,315.5 L336.5,315.5 L337,315.5 L337.5,315.5 L338,315.5 L338.5,315.5 L339,315.5 L339.5,315.5 L340,315.5 L340.5,315.5 L341,315.5 L341.5,315.5 L342,315.5 L342.5,315.5 L343,315.5 L343.5,315.5 L344,315.5 L344.5,315.5 L345,315.5 L345.5,315.5 L346,315.5 L346.5,315.5 L347,315.5 L347.5,315.5 L348,315.5 L348.5,315.5 L349,315.5 L349.5,315.5 L350,315.5 L350.5,315.5 L351,315.5 L351.5,315.5 L352,315.5 L352.5,315.5 L353,315.5 L353.5,315.5" stroke="#b03028" stroke-width="1.0" fill="none" stroke-linejoin="round"/>
<path d="M275.3,192.4 L280,198.6" stroke="#10a0b0" stroke-width="0.9"/>
<text x="271.1" y="185.03" font-size="6.3" fill="#c8c230" class="mono" font-weight="bold" textLength="9.3" lengthAdjust="spacingAndGlyphs">NAA</text>
<text x="263.2" y="192.34" font-size="6.3" fill="#c8c230" class="mono" font-weight="bold" textLength="24.8" lengthAdjust="spacingAndGlyphs">I: 181.34</text>
<path d="M234.4,254 L237.3,259.1" stroke="#10a0b0" stroke-width="0.9"/>
<text x="230.7" y="246.34" font-size="6.3" fill="#c8c230" class="mono" font-weight="bold" textLength="8" lengthAdjust="spacingAndGlyphs">Cho</text>
<text x="224.3" y="253.14" font-size="6.3" fill="#c8c230" class="mono" font-weight="bold" textLength="21.6" lengthAdjust="spacingAndGlyphs">I: 96.39</text>
<path d="M215,292 L218,298" stroke="#10a0b0" stroke-width="0.9"/>
<text x="210.8" y="284.83" font-size="6.3" fill="#c8c230" class="mono" font-weight="bold" textLength="8.1" lengthAdjust="spacingAndGlyphs">Cr2</text>
<text x="204" y="291.23" font-size="6.3" fill="#c8c230" class="mono" font-weight="bold" textLength="22.3" lengthAdjust="spacingAndGlyphs">I: 46.02</text>
<path d="M255.5,293.4 L244.2,299.7" stroke="#10a0b0" stroke-width="0.9"/>
<text x="253" y="286.44" font-size="6.3" fill="#c8c230" class="mono" font-weight="bold" textLength="4.7" lengthAdjust="spacingAndGlyphs">Cr</text>
<text x="244.6" y="293.23" font-size="6.3" fill="#c8c230" class="mono" font-weight="bold" textLength="22.4" lengthAdjust="spacingAndGlyphs">I: 29.98</text>
<path d="M364.2,180.5 V334.1 H522.5 v-2" stroke="#7c7c7c" stroke-width="1.4" fill="none"/>
<path d="M364.2,317.8 h-1.8 M364.2,270.5 h-1.8 M364.2,223.2 h-1.8 M377.8,334.1 v1.6 M413.97,334.1 v1.6 M450.14,334.1 v1.6 M486.31,334.1 v1.6 M522.48,334.1 v1.6" stroke="#7c7c7c" stroke-width="0.9" fill="none"/>
<text x="377.8" y="342.75" font-size="6.2" fill="#d8d8d8" class="mono" font-weight="bold" textLength="10.4" lengthAdjust="spacingAndGlyphs" text-anchor="middle">4.00</text>
<text x="413.97" y="342.75" font-size="6.2" fill="#d8d8d8" class="mono" font-weight="bold" textLength="10.4" lengthAdjust="spacingAndGlyphs" text-anchor="middle">3.00</text>
<text x="450.14" y="342.75" font-size="6.2" fill="#d8d8d8" class="mono" font-weight="bold" textLength="10.4" lengthAdjust="spacingAndGlyphs" text-anchor="middle">2.00</text>
<text x="486.31" y="342.75" font-size="6.2" fill="#d8d8d8" class="mono" font-weight="bold" textLength="10.4" lengthAdjust="spacingAndGlyphs" text-anchor="middle">1.00</text>
<text x="522.48" y="342.75" font-size="6.2" fill="#d8d8d8" class="mono" font-weight="bold" textLength="10.4" lengthAdjust="spacingAndGlyphs" text-anchor="middle">0.00</text>
<text x="364.5" y="349.53" font-size="6.2" fill="#20a8b0" class="sans">2</text>
<text x="386.3" y="349.53" font-size="6.2" fill="#e0e0e0" class="sans" textLength="18.5" lengthAdjust="spacingAndGlyphs">Vox:185</text>
<text x="473.1" y="348.54" font-size="6.2" fill="#e0e0e0" class="sans" textLength="10.2" lengthAdjust="spacingAndGlyphs">ppm</text>
<path d="M365,315.93 L365.5,315.7 L366,315.43 L366.5,315.17 L367,314.96 L367.5,314.86 L368,314.92 L368.5,315.24 L369,315.97 L369.5,316.93 L370,317.94 L370.5,318.8 L371,319.62 L371.5,320.57 L372,321.52 L372.5,322.34 L373,322.92 L373.5,323.11 L374,322.81 L374.5,321.95 L375,320.68 L375.5,319.13 L376,317.47 L376.5,315.82 L377,314.36 L377.5,313.11 L378,311.94 L378.5,310.86 L379,309.9 L379.5,308.74 L380,307.56 L380.5,307.1 L381,308.12 L381.5,310.6 L382,313.74 L382.5,316.62 L383,318.24 L383.5,317.72 L384,315.26 L384.5,311.3 L385,306.6 L385.5,302.36 L386,299.95 L386.5,300.69 L387,304.66 L387.5,310.26 L388,315.55 L388.5,318.75 L389,319.33 L389.5,317.89 L390,315.27 L390.5,311.89 L391,306.93 L391.5,301.69 L392,297.66 L392.5,296.3 L393,298.86 L393.5,304.35 L394,310.83 L394.5,316.36 L395,319.05 L395.5,319.04 L396,317.54 L396.5,315.31 L397,313.14 L397.5,311.82 L398,311.86 L398.5,312.6 L399,313.75 L399.5,315.15 L400,316.62 L400.5,317.99 L401,319.07 L401.5,319.7 L402,319.84 L402.5,319.54 L403,318.35 L403.5,314.76 L404,306.08 L404.5,290.97 L405,274.24 L405.5,266.5 L406,273.93 L406.5,290.27 L407,304.96 L407.5,313.22 L408,316.4 L408.5,317.16 L409,316.9 L409.5,315.93 L410,314.13 L410.5,311.4 L411,307.99 L411.5,304.63 L412,302.32 L412.5,301.84 L413,303.12 L413.5,305.55 L414,308.29 L414.5,310.66 L415,312.49 L415.5,314.24 L416,316.75 L416.5,318.99 L417,319.7 L417.5,318.82 L418,317.32 L418.5,315.45 L419,313.41 L419.5,311.42 L420,309.7 L420.5,308.45 L421,307.91 L421.5,308.69 L422,313.65 L422.5,320.29 L423,324.94 L423.5,324.85 L424,321.74 L424.5,318.22 L425,316.9 L425.5,318.53 L426,321.57 L426.5,325.19 L427,328.57 L427.5,330.88 L428,331.1 L428.5,327.88 L429,323.15 L429.5,319.44 L430,318.61 L430.5,319.24 L431,320.61 L431.5,322.26 L432,323.68 L432.5,324.4 L433,324.66 L433.5,324.84 L434,324.71 L434.5,324.02 L435,322.5 L435.5,319.59 L436,313.08 L436.5,305.4 L437,299.92 L437.5,299.07 L438,300.59 L438.5,303.5 L439,307.16 L439.5,310.91 L440,314.1 L440.5,317.08 L441,320.42 L441.5,323.83 L442,327 L442.5,329.62 L443,331.38 L443.5,331.97 L444,331.25 L444.5,329.51 L445,327.12 L445.5,324.45 L446,321.79 L446.5,319.13 L447,314.58 L447.5,303.69 L448,280.09 L448.5,242.65 L449,205.7 L449.5,193.8 L450,215.72 L450.5,253 L451,283 L451.5,298.38 L452,303.84 L452.5,305.4 L453,306.01 L453.5,306.54 L454,307.16 L454.5,307.87 L455,308.64 L455.5,309.46 L456,310.3 L456.5,311.36 L457,312.73 L457.5,314.16 L458,315.42 L458.5,316.28 L459,316.69 L459.5,316.86 L460,317.08 L460.5,317.69 L461,318.8 L461.5,318.94 L462,318.02 L462.5,317.44 L463,316.9 L463.5,316.75 L464,317.57 L464.5,319.45 L465,321.02 L465.5,321.46 L466,321.28 L466.5,320.88 L467,320.28 L467.5,319.47 L468,318.33 L468.5,317.23 L469,316.58 L469.5,316.42 L470,317.29 L470.5,319.17 L471,321.03 L471.5,322.3 L472,323.34 L472.5,324.29 L473,325.31 L473.5,325.68 L474,324.36 L474.5,322.65 L475,321.88 L475.5,321.29 L476,320.25 L476.5,318.41 L477,316.83 L477.5,316.39 L478,316.67 L478.5,317.42 L479,318.54 L479.5,319.17 L480,319.36 L480.5,318.85 L481,317.67 L481.5,316.53 L482,316.23 L482.5,317.07 L483,317.79 L483.5,317.74 L484,317.45 L484.5,317.05 L485,316.63 L485.5,316.36 L486,316.19 L486.5,316.25 L487,316.95 L487.5,318.39 L488,319.22 L488.5,317.9 L489,316.11 L489.5,316.73 L490,317.93 L490.5,317.02 L491,316.35 L491.5,317.62 L492,319.08 L492.5,319.14 L493,318.13 L493.5,317.3 L494,316.79 L494.5,316.43 L495,316.26 L495.5,316.25 L496,316.58 L496.5,317.58 L497,318.9 L497.5,319.45 L498,318.57 L498.5,317.7 L499,316.89 L499.5,316.49 L500,317.48 L500.5,319.3 L501,319.31 L501.5,318.05 L502,316.75 L502.5,316.56 L503,317.77 L503.5,319.14 L504,319.36 L504.5,318.59 L505,317.93 L505.5,317.39 L506,317.43 L506.5,317.88 L507,318.14 L507.5,317.63 L508,316.72 L508.5,316.31 L509,317.39 L509.5,318.91 L510,318.95 L510.5,318.08 L511,317.63 L511.5,318.56 L512,319.54 L512.5,318.87 L513,317.13 L513.5,316.03 L514,316.2 L514.5,316.84 L515,317.2 L515.5,317.02 L516,316.78 L516.5,316.8 L517,316.98 L517.5,317.32 L518,317.95 L518.5,318.43 L519,318.73 L519.5,318.88 L520,318.87 L520.5,318.63 L521,318.27 L521.5,317.89 L522,317.57" stroke="#c4c4c4" stroke-width="0.75" fill="none" stroke-linejoin="round"/>
<path d="M365,317.79 L365.5,317.79 L366,317.79 L366.5,317.79 L367,317.79 L367.5,317.79 L368,317.79 L368.5,317.79 L369,317.79 L369.5,317.79 L370,317.79 L370.5,317.79 L371,317.79 L371.5,317.79 L372,317.79 L372.5,317.79 L373,317.78 L373.5,317.78 L374,317.78 L374.5,317.78 L375,317.78 L375.5,317.78 L376,317.78 L376.5,317.77 L377,317.77 L377.5,317.77 L378,317.77 L378.5,317.76 L379,317.76 L379.5,317.75 L380,317.74 L380.5,317.73 L381,317.7 L381.5,317.64 L382,317.49 L382.5,317.12 L383,316.36 L383.5,314.93 L384,312.62 L384.5,309.42 L385,305.68 L385.5,302.21 L386,299.99 L386.5,299.77 L387,301.63 L387.5,304.93 L388,308.69 L388.5,312.04 L389,314.54 L389.5,316.13 L390,317 L390.5,317.43 L391,317.61 L391.5,317.69 L392,317.72 L392.5,317.73 L393,317.74 L393.5,317.74 L394,317.74 L394.5,317.74 L395,317.75 L395.5,317.75 L396,317.75 L396.5,317.74 L397,317.74 L397.5,317.74 L398,317.74 L398.5,317.73 L399,317.72 L399.5,317.72 L400,317.7 L400.5,317.69 L401,317.67 L401.5,317.64 L402,317.58 L402.5,317.38 L403,316.5 L403.5,313.37 L404,305.2 L404.5,290.59 L405,274.26 L405.5,266.76 L406,274.25 L406.5,290.57 L407,305.16 L407.5,313.3 L408,316.34 L408.5,316.99 L409,316.68 L409.5,315.66 L410,313.81 L410.5,311.04 L411,307.62 L411.5,304.3 L412,302.13 L412.5,301.92 L413,303.77 L413.5,306.95 L414,310.44 L414.5,313.4 L415,315.47 L415.5,316.68 L416,317.29 L416.5,317.56 L417,317.67 L417.5,317.71 L418,317.73 L418.5,317.74 L419,317.75 L419.5,317.75 L420,317.76 L420.5,317.76 L421,317.76 L421.5,317.76 L422,317.77 L422.5,317.77 L423,317.77 L423.5,317.77 L424,317.77 L424.5,317.77 L425,317.77 L425.5,317.77 L426,317.78 L426.5,317.78 L427,317.78 L427.5,317.78 L428,317.78 L428.5,317.78 L429,317.78 L429.5,317.78 L430,317.78 L430.5,317.78 L431,317.78 L431.5,317.78 L432,317.77 L432.5,317.77 L433,317.77 L433.5,317.77 L434,317.77 L434.5,317.77 L435,317.77 L435.5,317.77 L436,317.77 L436.5,317.76 L437,317.76 L437.5,317.76 L438,317.76 L438.5,317.75 L439,317.75 L439.5,317.74 L440,317.74 L440.5,317.73 L441,317.72 L441.5,317.71 L442,317.7 L442.5,317.69 L443,317.67 L443.5,317.65 L444,317.63 L444.5,317.59 L445,317.54 L445.5,317.47 L446,317.31 L446.5,316.69 L447,314.06 L447.5,305.15 L448,283.5 L448.5,247.9 L449,212.59 L449.5,202.04 L450,225.1 L450.5,263.31 L451,294.03 L451.5,309.88 L452,315.55 L452.5,317.05 L453,317.4 L453.5,317.51 L454,317.57 L454.5,317.61 L455,317.64 L455.5,317.66 L456,317.68 L456.5,317.7 L457,317.71 L457.5,317.72 L458,317.73 L458.5,317.74 L459,317.74 L459.5,317.75 L460,317.75 L460.5,317.76 L461,317.76 L461.5,317.76 L462,317.77 L462.5,317.77 L463,317.77 L463.5,317.77 L464,317.77 L464.5,317.78 L465,317.78 L465.5,317.78 L466,317.78 L466.5,317.78 L467,317.78 L467.5,317.78 L468,317.78 L468.5,317.78 L469,317.79 L469.5,317.79 L470,317.79 L470.5,317.79 L471,317.79 L471.5,317.79 L472,317.79 L472.5,317.79 L473,317.79 L473.5,317.79 L474,317.79 L474.5,317.79 L475,317.79 L475.5,317.79 L476,317.79 L476.5,317.79 L477,317.79 L477.5,317.79 L478,317.79 L478.5,317.79 L479,317.79 L479.5,317.79 L480,317.79 L480.5,317.79 L481,317.79 L481.5,317.79 L482,317.79 L482.5,317.79 L483,317.79 L483.5,317.79 L484,317.79 L484.5,317.79 L485,317.8 L485.5,317.8 L486,317.8 L486.5,317.8 L487,317.8 L487.5,317.8 L488,317.8 L488.5,317.8 L489,317.8 L489.5,317.8 L490,317.8 L490.5,317.8 L491,317.8 L491.5,317.8 L492,317.8 L492.5,317.8 L493,317.8 L493.5,317.8 L494,317.8 L494.5,317.8 L495,317.8 L495.5,317.8 L496,317.8 L496.5,317.8 L497,317.8 L497.5,317.8 L498,317.8 L498.5,317.8 L499,317.8 L499.5,317.8 L500,317.8 L500.5,317.8 L501,317.8 L501.5,317.8 L502,317.8 L502.5,317.8 L503,317.8 L503.5,317.8 L504,317.8 L504.5,317.8 L505,317.8 L505.5,317.8 L506,317.8 L506.5,317.8 L507,317.8 L507.5,317.8 L508,317.8 L508.5,317.8 L509,317.8 L509.5,317.8 L510,317.8 L510.5,317.8 L511,317.8 L511.5,317.8 L512,317.8 L512.5,317.8 L513,317.8 L513.5,317.8 L514,317.8 L514.5,317.8 L515,317.8 L515.5,317.8 L516,317.8 L516.5,317.8 L517,317.8 L517.5,317.8 L518,317.8 L518.5,317.8 L519,317.8 L519.5,317.8 L520,317.8 L520.5,317.8 L521,317.8 L521.5,317.8 L522,317.8" stroke="#b03028" stroke-width="1.0" fill="none" stroke-linejoin="round"/>
<path d="M449.3,210.4 L458,208.4" stroke="#10a0b0" stroke-width="0.9"/>
<text x="453.5" y="201.44" font-size="6.3" fill="#c8c230" class="mono" font-weight="bold" textLength="9" lengthAdjust="spacingAndGlyphs">NAA</text>
<text x="445.6" y="207.84" font-size="6.3" fill="#c8c230" class="mono" font-weight="bold" textLength="25.3" lengthAdjust="spacingAndGlyphs">I: 175.09</text>
<path d="M405.3,267 L409.4,265.9" stroke="#10a0b0" stroke-width="0.9"/>
<text x="405.3" y="258.83" font-size="6.3" fill="#c8c230" class="mono" font-weight="bold" textLength="8.5" lengthAdjust="spacingAndGlyphs">Cho</text>
<text x="398" y="265.33" font-size="6.3" fill="#c8c230" class="mono" font-weight="bold" textLength="23.2" lengthAdjust="spacingAndGlyphs">I: 94.85</text>
<path d="M386.3,296.5 L386.3,299" stroke="#10a0b0" stroke-width="0.9"/>
<text x="382.4" y="290.73" font-size="6.3" fill="#c8c230" class="mono" font-weight="bold" textLength="8.1" lengthAdjust="spacingAndGlyphs">Cr2</text>
<text x="376.1" y="297.13" font-size="6.3" fill="#c8c230" class="mono" font-weight="bold" textLength="22" lengthAdjust="spacingAndGlyphs">I: 44.53</text>
<path d="M431.9,301 L412.4,303.6" stroke="#10a0b0" stroke-width="0.9"/>
<text x="429.3" y="294.63" font-size="6.3" fill="#c8c230" class="mono" font-weight="bold" textLength="5.1" lengthAdjust="spacingAndGlyphs">Cr</text>
<text x="421.7" y="301.73" font-size="6.3" fill="#c8c230" class="mono" font-weight="bold" textLength="22" lengthAdjust="spacingAndGlyphs">I: 27.02</text>
<g clip-path="url(#clipC1)">
<path d="M198.1,362.8 V519.5 H335.2 v-2" stroke="#7c7c7c" stroke-width="1.4" fill="none"/>
<path d="M198.1,501.6 h-1.8 M198.1,456.7 h-1.8 M198.1,411.8 h-1.8 M198.1,366.9 h-1.8 M210.8,519.5 v1.6 M242.1,519.5 v1.6 M273.4,519.5 v1.6 M304.7,519.5 v1.6 M336,519.5 v1.6" stroke="#7c7c7c" stroke-width="0.9" fill="none"/>
<text x="195.3" y="503.53" font-size="4.6" fill="#d8d8d8" class="sans" font-weight="bold" textLength="7.8" lengthAdjust="spacingAndGlyphs" text-anchor="end">0.00</text>
<text x="195.3" y="458.63" font-size="4.6" fill="#d8d8d8" class="sans" font-weight="bold" textLength="7.8" lengthAdjust="spacingAndGlyphs" text-anchor="end">2.00</text>
<text x="195.3" y="413.73" font-size="4.6" fill="#d8d8d8" class="sans" font-weight="bold" textLength="7.8" lengthAdjust="spacingAndGlyphs" text-anchor="end">4.00</text>
<text x="195.3" y="368.83" font-size="4.6" fill="#d8d8d8" class="sans" font-weight="bold" textLength="7.8" lengthAdjust="spacingAndGlyphs" text-anchor="end">6.00</text>
<text x="210.8" y="525.62" font-size="4.6" fill="#d8d8d8" class="sans" font-weight="bold" textLength="7.8" lengthAdjust="spacingAndGlyphs" text-anchor="middle">4.00</text>
<text x="242.1" y="525.62" font-size="4.6" fill="#d8d8d8" class="sans" font-weight="bold" textLength="7.8" lengthAdjust="spacingAndGlyphs" text-anchor="middle">3.00</text>
<text x="273.4" y="525.62" font-size="4.6" fill="#d8d8d8" class="sans" font-weight="bold" textLength="7.8" lengthAdjust="spacingAndGlyphs" text-anchor="middle">2.00</text>
<text x="304.7" y="525.62" font-size="4.6" fill="#d8d8d8" class="sans" font-weight="bold" textLength="7.8" lengthAdjust="spacingAndGlyphs" text-anchor="middle">1.00</text>
<text x="336" y="525.62" font-size="4.6" fill="#d8d8d8" class="sans" font-weight="bold" textLength="7.8" lengthAdjust="spacingAndGlyphs" text-anchor="middle">0.00</text>
<text x="199" y="530.53" font-size="4.8" fill="#20a8b0" class="sans">1</text>
<text x="217.5" y="530.53" font-size="4.8" fill="#e0e0e0" class="sans" textLength="14.5" lengthAdjust="spacingAndGlyphs">Vox:162</text>
<text x="292.4" y="529.76" font-size="4.8" fill="#e0e0e0" class="sans" textLength="8.1" lengthAdjust="spacingAndGlyphs">ppm</text>
<path d="M198.9,505.28 L199.4,503.54 L199.9,501.71 L200.4,500.01 L200.9,498.66 L201.4,497.83 L201.9,497.36 L202.4,497.11 L202.9,497.04 L203.4,497.07 L203.9,497.15 L204.4,497.2 L204.9,497.11 L205.4,496.86 L205.9,496.65 L206.4,496.7 L206.9,497.21 L207.4,498.41 L207.9,500.71 L208.4,503.81 L208.9,507.19 L209.4,510.3 L209.9,512.62 L210.4,513.67 L210.9,513.63 L211.4,512.93 L211.9,512.01 L212.4,511.29 L212.9,511.2 L213.4,512.66 L213.9,515.72 L214.4,518.37 L214.9,518.6 L215.4,517.04 L215.9,514.6 L216.4,511.24 L216.9,506.92 L217.4,501.84 L217.9,496.82 L218.4,493.13 L218.9,492.09 L219.4,494.13 L219.9,497.19 L220.4,499.04 L220.9,498.38 L221.4,495.9 L221.9,492.51 L222.4,489.07 L222.9,486.32 L223.4,484.92 L223.9,485.93 L224.4,492.27 L224.9,501.01 L225.4,508.01 L225.9,510.26 L226.4,510.25 L226.9,508.98 L227.4,507.06 L227.9,505.14 L228.4,503.79 L228.9,502.63 L229.4,501.24 L229.9,499.34 L230.4,496.36 L230.9,491.3 L231.4,482.73 L231.9,469.14 L232.4,449.69 L232.9,425.28 L233.4,399.2 L233.9,376.85 L234.4,364.02 L234.9,364.41 L235.4,377.46 L235.9,398.71 L236.4,422.12 L236.9,442.56 L237.4,457.2 L237.9,465.68 L238.4,469.27 L238.9,469.82 L239.4,469.07 L239.9,468.27 L240.4,468.18 L240.9,469.12 L241.4,471.34 L241.9,474.47 L242.4,477.95 L242.9,481.22 L243.4,483.89 L243.9,485.96 L244.4,487.44 L244.9,488.4 L245.4,488.99 L245.9,489.37 L246.4,489.49 L246.9,489.26 L247.4,490.05 L247.9,493.21 L248.4,498.27 L248.9,503.99 L249.4,509.12 L249.9,512.38 L250.4,513.1 L250.9,512.22 L251.4,510.36 L251.9,508.14 L252.4,506.18 L252.9,505.07 L253.4,506.02 L253.9,510.12 L254.4,513.76 L254.9,513.89 L255.4,512.24 L255.9,509.77 L256.4,507.14 L256.9,505 L257.4,503.65 L257.9,502.67 L258.4,501.63 L258.9,500.11 L259.4,497.66 L259.9,493.86 L260.4,489.28 L260.9,484.68 L261.4,480.78 L261.9,478.32 L262.4,478.05 L262.9,480.24 L263.4,484.29 L263.9,489.49 L264.4,495.15 L264.9,500.55 L265.4,505 L265.9,508.63 L266.4,511.99 L266.9,514.96 L267.4,517.41 L267.9,519 L268.4,519 L268.9,519 L269.4,517.56 L269.9,508.22 L270.4,488.73 L270.9,457.14 L271.4,418.97 L271.9,385.84 L272.4,371.2 L272.9,380.06 L273.4,405.32 L273.9,435.41 L274.4,460.57 L274.9,476.94 L275.4,485.67 L275.9,489.72 L276.4,491.55 L276.9,492.47 L277.4,493.39 L277.9,495.03 L278.4,497.05 L278.9,499.03 L279.4,500.56 L279.9,501.86 L280.4,503.06 L280.9,504.06 L281.4,504.76 L281.9,505 L282.4,504.34 L282.9,503.29 L283.4,502.53 L283.9,502.69 L284.4,503.3 L284.9,503.28 L285.4,501.65 L285.9,500.11 L286.4,499.99 L286.9,500.14 L287.4,499.95 L287.9,499.74 L288.4,499.68 L288.9,499.79 L289.4,500.05 L289.9,500.53 L290.4,501.29 L290.9,502.22 L291.4,503.74 L291.9,505.99 L292.4,508.65 L292.9,511.22 L293.4,515.68 L293.9,519 L294.4,519 L294.9,517.28 L295.4,513.18 L295.9,509.29 L296.4,506.3 L296.9,504.45 L297.4,503.55 L297.9,503.24 L298.4,503.2 L298.9,503.28 L299.4,503.44 L299.9,503.41 L300.4,503.26 L300.9,502.93 L301.4,502.28 L301.9,501.53 L302.4,501.16 L302.9,501.29 L303.4,501.18 L303.9,500.23 L304.4,499.54 L304.9,500.3 L305.4,501.7 L305.9,502.52 L306.4,502.06 L306.9,500.91 L307.4,499.73 L307.9,498.91 L308.4,498.24 L308.9,497.78 L309.4,497.8 L309.9,497.56 L310.4,496.59 L310.9,495.59 L311.4,495.34 L311.9,495.36 L312.4,494.22 L312.9,492.4 L313.4,491.61 L313.9,491.51 L314.4,492.01 L314.9,493.68 L315.4,495.89 L315.9,497.05 L316.4,497.87 L316.9,498.92 L317.4,500.02 L317.9,501.2 L318.4,502.21 L318.9,502.09 L319.4,501.44 L319.9,500.99 L320.4,501.54 L320.9,502.99 L321.4,503.86 L321.9,502.01 L322.4,499.73 L322.9,500.64 L323.4,502.44 L323.9,503.35 L324.4,502.15 L324.9,500.31 L325.4,500.04 L325.9,501.87 L326.4,503.5 L326.9,503.71 L327.4,503.42 L327.9,503.17 L328.4,503.3 L328.9,503.44 L329.4,503.15 L329.9,502.75 L330.4,503 L330.9,503.88 L331.4,503.94 L331.9,503.39 L332.4,502.8 L332.9,502.48 L333.4,502.25 L333.9,502.03 L334.4,501.82" stroke="#b4b4b4" stroke-width="0.7" fill="none" stroke-linejoin="round"/>
<path d="M198.9,501.58 L199.4,501.58 L199.9,501.58 L200.4,501.58 L200.9,501.58 L201.4,501.58 L201.9,501.58 L202.4,501.58 L202.9,501.58 L203.4,501.57 L203.9,501.57 L204.4,501.57 L204.9,501.57 L205.4,501.57 L205.9,501.57 L206.4,501.57 L206.9,501.57 L207.4,501.57 L207.9,501.56 L208.4,501.56 L208.9,501.56 L209.4,501.56 L209.9,501.56 L210.4,501.55 L210.9,501.55 L211.4,501.55 L211.9,501.55 L212.4,501.54 L212.9,501.54 L213.4,501.53 L213.9,501.52 L214.4,501.51 L214.9,501.47 L215.4,501.36 L215.9,501.02 L216.4,500.2 L216.9,498.64 L217.4,496.33 L217.9,493.85 L218.4,492.28 L218.9,492.46 L219.4,494.3 L219.9,496.81 L220.4,498.98 L220.9,500.37 L221.4,501.06 L221.9,501.33 L222.4,501.41 L222.9,501.42 L223.4,501.42 L223.9,501.41 L224.4,501.4 L224.9,501.39 L225.4,501.37 L225.9,501.35 L226.4,501.32 L226.9,501.29 L227.4,501.25 L227.9,501.2 L228.4,501.12 L228.9,500.96 L229.4,500.61 L229.9,499.79 L230.4,497.89 L230.9,493.93 L231.4,486.44 L231.9,473.89 L232.4,455.45 L232.9,432 L233.4,406.81 L233.9,385.27 L234.4,373.16 L234.9,374.15 L235.4,387.71 L235.9,409.37 L236.4,433.11 L236.9,453.81 L237.4,468.65 L237.9,477.27 L238.4,480.96 L238.9,481.59 L239.4,480.89 L239.9,480.13 L240.4,480.07 L240.9,481.01 L241.4,482.91 L241.9,485.52 L242.4,488.47 L242.9,491.43 L243.4,494.11 L243.9,496.34 L244.4,498.07 L244.9,499.31 L245.4,500.16 L245.9,500.7 L246.4,501.02 L246.9,501.21 L247.4,501.32 L247.9,501.38 L248.4,501.41 L248.9,501.43 L249.4,501.45 L249.9,501.46 L250.4,501.47 L250.9,501.47 L251.4,501.48 L251.9,501.48 L252.4,501.49 L252.9,501.49 L253.4,501.5 L253.9,501.5 L254.4,501.5 L254.9,501.5 L255.4,501.51 L255.9,501.51 L256.4,501.51 L256.9,501.51 L257.4,501.51 L257.9,501.51 L258.4,501.51 L258.9,501.51 L259.4,501.5 L259.9,501.5 L260.4,501.5 L260.9,501.49 L261.4,501.49 L261.9,501.48 L262.4,501.47 L262.9,501.47 L263.4,501.45 L263.9,501.44 L264.4,501.43 L264.9,501.41 L265.4,501.39 L265.9,501.36 L266.4,501.32 L266.9,501.28 L267.4,501.2 L267.9,501.05 L268.4,500.63 L268.9,499.34 L269.4,495.78 L269.9,487.4 L270.4,471.15 L270.9,445.78 L271.4,415.07 L271.9,388.68 L272.4,378.09 L272.9,388.68 L273.4,415.07 L273.9,445.79 L274.4,471.15 L274.9,487.41 L275.4,495.79 L275.9,499.35 L276.4,500.64 L276.9,501.06 L277.4,501.22 L277.9,501.29 L278.4,501.34 L278.9,501.38 L279.4,501.41 L279.9,501.43 L280.4,501.45 L280.9,501.47 L281.4,501.48 L281.9,501.49 L282.4,501.51 L282.9,501.52 L283.4,501.52 L283.9,501.53 L284.4,501.54 L284.9,501.55 L285.4,501.55 L285.9,501.56 L286.4,501.57 L286.9,501.57 L287.4,501.58 L287.9,501.59 L288.4,501.6 L288.9,501.61 L289.4,501.64 L289.9,501.71 L290.4,501.9 L290.9,502.37 L291.4,503.43 L291.9,505.41 L292.4,508.48 L292.9,512.33 L293.4,515.99 L293.9,518.16 L294.4,517.91 L294.9,515.34 L295.4,511.54 L295.9,507.8 L296.4,504.94 L296.9,503.17 L297.4,502.26 L297.9,501.86 L298.4,501.71 L298.9,501.65 L299.4,501.63 L299.9,501.62 L300.4,501.62 L300.9,501.61 L301.4,501.61 L301.9,501.61 L302.4,501.61 L302.9,501.6 L303.4,501.6 L303.9,501.6 L304.4,501.6 L304.9,501.6 L305.4,501.6 L305.9,501.6 L306.4,501.6 L306.9,501.6 L307.4,501.6 L307.9,501.6 L308.4,501.6 L308.9,501.6 L309.4,501.6 L309.9,501.6 L310.4,501.59 L310.9,501.59 L311.4,501.59 L311.9,501.59 L312.4,501.59 L312.9,501.59 L313.4,501.59 L313.9,501.59 L314.4,501.59 L314.9,501.59 L315.4,501.59 L315.9,501.59 L316.4,501.59 L316.9,501.59 L317.4,501.59 L317.9,501.59 L318.4,501.59 L318.9,501.59 L319.4,501.59 L319.9,501.59 L320.4,501.59 L320.9,501.59 L321.4,501.59 L321.9,501.59 L322.4,501.6 L322.9,501.6 L323.4,501.6 L323.9,501.6 L324.4,501.6 L324.9,501.6 L325.4,501.6 L325.9,501.6 L326.4,501.6 L326.9,501.6 L327.4,501.6 L327.9,501.6 L328.4,501.6 L328.9,501.6 L329.4,501.6 L329.9,501.6 L330.4,501.6 L330.9,501.6 L331.4,501.6 L331.9,501.6 L332.4,501.6 L332.9,501.6 L333.4,501.6 L333.9,501.6 L334.4,501.6" stroke="#961e1c" stroke-width="0.9" fill="none" stroke-linejoin="round"/>
<path d="M264.5,373.8 L271.8,378.4" stroke="#10a0b0" stroke-width="0.9"/>
<text x="259.9" y="367.56" font-size="4.8" fill="#c8c230" class="sans" font-weight="bold" textLength="8" lengthAdjust="spacingAndGlyphs">NAA</text>
<text x="256" y="373.16" font-size="4.8" fill="#c8c230" class="sans" font-weight="bold" textLength="16.1" lengthAdjust="spacingAndGlyphs">I: 159.73</text>
<path d="M230,373.5 L234.5,373.5" stroke="#10a0b0" stroke-width="0.9"/>
<text x="225.1" y="367.56" font-size="4.8" fill="#c8c230" class="sans" font-weight="bold" textLength="7.6" lengthAdjust="spacingAndGlyphs">Cho</text>
<text x="221.3" y="373.16" font-size="4.8" fill="#c8c230" class="sans" font-weight="bold" textLength="16.2" lengthAdjust="spacingAndGlyphs">I: 101.54</text>
<path d="M212.5,486.6 L218.4,492.3" stroke="#10a0b0" stroke-width="0.9"/>
<text x="209.1" y="480.66" font-size="4.8" fill="#c8c230" class="sans" font-weight="bold" textLength="7.1" lengthAdjust="spacingAndGlyphs">Cr2</text>
<text x="206.6" y="486.76" font-size="4.8" fill="#c8c230" class="sans" font-weight="bold" textLength="11.8" lengthAdjust="spacingAndGlyphs">I: 6.10</text>
<path d="M242.9,459.6 L239.8,466.3" stroke="#10a0b0" stroke-width="0.9"/>
<text x="241.5" y="452.46" font-size="4.8" fill="#c8c230" class="sans" font-weight="bold" textLength="4.8" lengthAdjust="spacingAndGlyphs">Cr</text>
<text x="236.1" y="458.06" font-size="4.8" fill="#c8c230" class="sans" font-weight="bold" textLength="14.4" lengthAdjust="spacingAndGlyphs">I: 63.80</text>
</g>
<path d="M367.7,364.2 V521.2 H504.2 v-2" stroke="#7c7c7c" stroke-width="1.4" fill="none"/>
<path d="M367.7,495.6 h-1.8 M367.7,458.6 h-1.8 M367.7,421.6 h-1.8 M367.7,384.6 h-1.8 M379.8,521.2 v1.6 M410.95,521.2 v1.6 M442.1,521.2 v1.6 M473.25,521.2 v1.6 M504.4,521.2 v1.6" stroke="#7c7c7c" stroke-width="0.9" fill="none"/>
<text x="364.9" y="497.53" font-size="4.6" fill="#d8d8d8" class="sans" font-weight="bold" textLength="7.8" lengthAdjust="spacingAndGlyphs" text-anchor="end">0.00</text>
<text x="364.9" y="460.53" font-size="4.6" fill="#d8d8d8" class="sans" font-weight="bold" textLength="7.8" lengthAdjust="spacingAndGlyphs" text-anchor="end">2.00</text>
<text x="364.9" y="423.53" font-size="4.6" fill="#d8d8d8" class="sans" font-weight="bold" textLength="7.8" lengthAdjust="spacingAndGlyphs" text-anchor="end">4.00</text>
<text x="364.9" y="386.53" font-size="4.6" fill="#d8d8d8" class="sans" font-weight="bold" textLength="7.8" lengthAdjust="spacingAndGlyphs" text-anchor="end">6.00</text>
<text x="379.8" y="527.02" font-size="4.6" fill="#d8d8d8" class="sans" font-weight="bold" textLength="7.8" lengthAdjust="spacingAndGlyphs" text-anchor="middle">4.00</text>
<text x="410.95" y="527.02" font-size="4.6" fill="#d8d8d8" class="sans" font-weight="bold" textLength="7.8" lengthAdjust="spacingAndGlyphs" text-anchor="middle">3.00</text>
<text x="442.1" y="527.02" font-size="4.6" fill="#d8d8d8" class="sans" font-weight="bold" textLength="7.8" lengthAdjust="spacingAndGlyphs" text-anchor="middle">2.00</text>
<text x="473.25" y="527.02" font-size="4.6" fill="#d8d8d8" class="sans" font-weight="bold" textLength="7.8" lengthAdjust="spacingAndGlyphs" text-anchor="middle">1.00</text>
<text x="504.4" y="527.02" font-size="4.6" fill="#d8d8d8" class="sans" font-weight="bold" textLength="7.8" lengthAdjust="spacingAndGlyphs" text-anchor="middle">0.00</text>
<text x="368.3" y="531.23" font-size="4.8" fill="#20a8b0" class="sans">1</text>
<text x="386.3" y="531.23" font-size="4.8" fill="#e0e0e0" class="sans" textLength="14.7" lengthAdjust="spacingAndGlyphs">Vox:123</text>
<text x="458" y="530.46" font-size="4.8" fill="#e0e0e0" class="sans" textLength="8" lengthAdjust="spacingAndGlyphs">ppm</text>
<path d="M368.5,501.47 L369,498.47 L369.5,495.5 L370,492.91 L370.5,491.01 L371,489.41 L371.5,488.05 L372,487 L372.5,486.36 L373,486.2 L373.5,486.88 L374,488.4 L374.5,490.31 L375,492.17 L375.5,493.76 L376,495.62 L376.5,497.53 L377,499.17 L377.5,500.21 L378,500.32 L378.5,498.82 L379,496.19 L379.5,493.32 L380,491.11 L380.5,490.46 L381,492 L381.5,495.2 L382,499.35 L382.5,503.77 L383,507.74 L383.5,510.5 L384,511.23 L384.5,508.97 L385,504.14 L385.5,497.78 L386,491.49 L386.5,487.33 L387,487.12 L387.5,490.73 L388,496.07 L388.5,500.96 L389,503.76 L389.5,503.28 L390,498.59 L390.5,491.18 L391,483.13 L391.5,476.47 L392,473.18 L392.5,474.9 L393,480.78 L393.5,488.85 L394,497.13 L394.5,503.65 L395,506.65 L395.5,506.99 L396,505.71 L396.5,503.56 L397,501.25 L397.5,499.51 L398,498.55 L398.5,497.57 L399,496.48 L399.5,495.08 L400,492.79 L400.5,488.42 L401,480.03 L401.5,465.58 L402,444.48 L402.5,419.5 L403,397.31 L403.5,386.02 L404,390.4 L404.5,408.25 L405,432.04 L405.5,453.89 L406,469.13 L406.5,476.92 L407,478.82 L407.5,477.09 L408,473.77 L408.5,470.59 L409,468.88 L409.5,469.73 L410,472.9 L410.5,477.36 L411,481.8 L411.5,485.34 L412,487.73 L412.5,488.93 L413,489.15 L413.5,488.7 L414,487.64 L414.5,485.61 L415,483.42 L415.5,481.93 L416,481.96 L416.5,483.68 L417,486.45 L417.5,489.62 L418,492.56 L418.5,494.64 L419,494.67 L419.5,492.66 L420,491.21 L420.5,492.81 L421,497.42 L421.5,503.21 L422,508.43 L422.5,511.3 L423,510.89 L423.5,508.33 L424,504.97 L424.5,502.17 L425,500.92 L425.5,500.49 L426,500.45 L426.5,500.47 L427,500.25 L427.5,499.46 L428,497.77 L428.5,494.85 L429,490.96 L429.5,486.59 L430,482.2 L430.5,478.28 L431,475.3 L431.5,473.73 L432,474.26 L432.5,477.63 L433,482.89 L433.5,488.97 L434,494.8 L434.5,499.3 L435,502.33 L435.5,504.61 L436,506.33 L436.5,507.61 L437,508.51 L437.5,508.38 L438,504.73 L438.5,494.16 L439,474.04 L439.5,444.81 L440,410.8 L440.5,380.79 L441,365.18 L441.5,369.74 L442,390.62 L442.5,419.14 L443,446.3 L443.5,466.86 L444,479.97 L444.5,487.36 L445,491.22 L445.5,493.05 L446,493.88 L446.5,494.27 L447,494.44 L447.5,494.52 L448,494.6 L448.5,494.78 L449,495.11 L449.5,495.48 L450,495.94 L450.5,496.52 L451,497.27 L451.5,498.33 L452,499.63 L452.5,500.98 L453,502.21 L453.5,503.16 L454,503.66 L454.5,503.34 L455,502.02 L455.5,500.5 L456,499.64 L456.5,499.98 L457,501.34 L457.5,503.95 L458,508.02 L458.5,513.29 L459,517.93 L459.5,520.08 L460,519.57 L460.5,517.56 L461,515.57 L461.5,512.5 L462,508.12 L462.5,503.83 L463,500.42 L463.5,498 L464,496.68 L464.5,496.59 L465,497.32 L465.5,498.11 L466,498.43 L466.5,498.37 L467,498.15 L467.5,497.61 L468,496.6 L468.5,495.18 L469,494.03 L469.5,493.96 L470,494.98 L470.5,495.88 L471,495.63 L471.5,494.72 L472,494.08 L472.5,494.73 L473,496.56 L473.5,497.46 L474,496.24 L474.5,494.42 L475,493.96 L475.5,495.46 L476,495.7 L476.5,494.77 L477,493.59 L477.5,492.07 L478,490.96 L478.5,491.11 L479,491.68 L479.5,491.88 L480,490.79 L480.5,490.45 L481,492.02 L481.5,493.14 L482,493.54 L482.5,493.67 L483,493.54 L483.5,493.29 L484,492.98 L484.5,492.56 L485,492.61 L485.5,494 L486,496.46 L486.5,497.7 L487,496.61 L487.5,495.06 L488,495.21 L488.5,496.62 L489,497.07 L489.5,496.46 L490,496.05 L490.5,495.89 L491,495.87 L491.5,496.14 L492,496.45 L492.5,495.97 L493,495.12 L493.5,494.63 L494,495.52 L494.5,497.35 L495,497.43 L495.5,495.8 L496,494.46 L496.5,495.49 L497,496.93 L497.5,496.37 L498,495.5 L498.5,495.66 L499,496.24 L499.5,496.01 L500,495.09 L500.5,494.56 L501,495.96 L501.5,498.08 L502,497.6 L502.5,496.14 L503,494.64" stroke="#b4b4b4" stroke-width="0.7" fill="none" stroke-linejoin="round"/>
<path d="M368.5,495.59 L369,495.59 L369.5,495.59 L370,495.59 L370.5,495.59 L371,495.59 L371.5,495.58 L372,495.58 L372.5,495.58 L373,495.58 L373.5,495.58 L374,495.58 L374.5,495.58 L375,495.58 L375.5,495.58 L376,495.58 L376.5,495.58 L377,495.58 L377.5,495.57 L378,495.57 L378.5,495.57 L379,495.57 L379.5,495.57 L380,495.56 L380.5,495.56 L381,495.56 L381.5,495.55 L382,495.55 L382.5,495.54 L383,495.5 L383.5,495.39 L384,495.08 L384.5,494.32 L385,492.85 L385.5,490.69 L386,488.38 L386.5,486.91 L387,487.08 L387.5,488.8 L388,491.15 L388.5,493.19 L389,494.5 L389.5,495.14 L390,495.39 L390.5,495.47 L391,495.5 L391.5,495.5 L392,495.5 L392.5,495.49 L393,495.49 L393.5,495.48 L394,495.47 L394.5,495.46 L395,495.45 L395.5,495.43 L396,495.42 L396.5,495.39 L397,495.37 L397.5,495.33 L398,495.28 L398.5,495.2 L399,495.01 L399.5,494.5 L400,493.08 L400.5,489.55 L401,481.97 L401.5,468.27 L402,447.86 L402.5,423.5 L403,401.86 L403.5,391.02 L404,395.75 L404.5,413.82 L405,437.72 L405.5,459.6 L406,474.78 L406.5,482.45 L407,484.2 L407.5,482.28 L408,478.77 L408.5,475.39 L409,473.47 L409.5,473.76 L410,476.22 L410.5,480.11 L411,484.42 L411.5,488.3 L412,491.25 L412.5,493.21 L413,494.36 L413.5,494.96 L414,495.24 L414.5,495.37 L415,495.42 L415.5,495.45 L416,495.47 L416.5,495.48 L417,495.49 L417.5,495.49 L418,495.5 L418.5,495.51 L419,495.51 L419.5,495.52 L420,495.52 L420.5,495.52 L421,495.53 L421.5,495.53 L422,495.53 L422.5,495.53 L423,495.53 L423.5,495.53 L424,495.53 L424.5,495.53 L425,495.53 L425.5,495.53 L426,495.53 L426.5,495.53 L427,495.52 L427.5,495.52 L428,495.52 L428.5,495.51 L429,495.51 L429.5,495.51 L430,495.5 L430.5,495.49 L431,495.48 L431.5,495.47 L432,495.46 L432.5,495.45 L433,495.43 L433.5,495.41 L434,495.39 L434.5,495.36 L435,495.32 L435.5,495.27 L436,495.18 L436.5,494.97 L437,494.39 L437.5,492.78 L438,488.76 L438.5,480.13 L439,464.55 L439.5,441.32 L440,413.61 L440.5,388.98 L441,376.68 L441.5,382.13 L442,402.86 L442.5,430.44 L443,456.11 L443.5,474.85 L444,486.02 L444.5,491.58 L445,493.94 L445.5,494.82 L446,495.14 L446.5,495.26 L447,495.33 L447.5,495.37 L448,495.41 L448.5,495.44 L449,495.46 L449.5,495.48 L450,495.5 L450.5,495.52 L451,495.54 L451.5,495.55 L452,495.57 L452.5,495.59 L453,495.61 L453.5,495.65 L454,495.72 L454.5,495.87 L455,496.16 L455.5,496.72 L456,497.7 L456.5,499.31 L457,501.71 L457.5,504.96 L458,508.88 L458.5,513.07 L459,516.89 L459.5,519.59 L460,520.57 L460.5,519.59 L461,516.89 L461.5,513.08 L462,508.89 L462.5,504.97 L463,501.74 L463.5,499.34 L464,497.73 L464.5,496.75 L465,496.2 L465.5,495.91 L466,495.77 L466.5,495.71 L467,495.67 L467.5,495.66 L468,495.65 L468.5,495.64 L469,495.63 L469.5,495.63 L470,495.63 L470.5,495.62 L471,495.62 L471.5,495.62 L472,495.62 L472.5,495.61 L473,495.61 L473.5,495.61 L474,495.61 L474.5,495.61 L475,495.61 L475.5,495.61 L476,495.61 L476.5,495.6 L477,495.6 L477.5,495.6 L478,495.6 L478.5,495.6 L479,495.6 L479.5,495.6 L480,495.6 L480.5,495.6 L481,495.6 L481.5,495.6 L482,495.6 L482.5,495.6 L483,495.6 L483.5,495.6 L484,495.6 L484.5,495.6 L485,495.6 L485.5,495.6 L486,495.6 L486.5,495.6 L487,495.6 L487.5,495.6 L488,495.6 L488.5,495.6 L489,495.6 L489.5,495.6 L490,495.6 L490.5,495.6 L491,495.6 L491.5,495.6 L492,495.6 L492.5,495.6 L493,495.6 L493.5,495.6 L494,495.6 L494.5,495.6 L495,495.6 L495.5,495.6 L496,495.6 L496.5,495.6 L497,495.6 L497.5,495.6 L498,495.6 L498.5,495.6 L499,495.6 L499.5,495.6 L500,495.6 L500.5,495.6 L501,495.6 L501.5,495.6 L502,495.6 L502.5,495.6 L503,495.6" stroke="#961e1c" stroke-width="0.9" fill="none" stroke-linejoin="round"/>
<path d="M432.7,374.6 L440.3,378.4" stroke="#10a0b0" stroke-width="0.9"/>
<text x="428.5" y="369.16" font-size="4.8" fill="#c8c230" class="sans" font-weight="bold" textLength="8.4" lengthAdjust="spacingAndGlyphs">NAA</text>
<text x="424.3" y="374.76" font-size="4.8" fill="#c8c230" class="sans" font-weight="bold" textLength="16.8" lengthAdjust="spacingAndGlyphs">I: 129.01</text>
<path d="M396.4,386.5 L403.1,391.2" stroke="#10a0b0" stroke-width="0.9"/>
<text x="393" y="380.16" font-size="4.8" fill="#c8c230" class="sans" font-weight="bold" textLength="7.6" lengthAdjust="spacingAndGlyphs">Cho</text>
<text x="388.8" y="385.56" font-size="4.8" fill="#c8c230" class="sans" font-weight="bold" textLength="16" lengthAdjust="spacingAndGlyphs">I: 116.45</text>
<path d="M380.3,481.2 L386.8,486.6" stroke="#10a0b0" stroke-width="0.9"/>
<text x="377.8" y="474.96" font-size="4.8" fill="#c8c230" class="sans" font-weight="bold" textLength="7.3" lengthAdjust="spacingAndGlyphs">Cr2</text>
<text x="374.9" y="480.66" font-size="4.8" fill="#c8c230" class="sans" font-weight="bold" textLength="11.9" lengthAdjust="spacingAndGlyphs">I: 5.90</text>
<path d="M410.7,463.8 L409,468.9" stroke="#10a0b0" stroke-width="0.9"/>
<text x="408.7" y="456.66" font-size="4.8" fill="#c8c230" class="sans" font-weight="bold" textLength="3.7" lengthAdjust="spacingAndGlyphs">Cr</text>
<text x="404" y="462.56" font-size="4.8" fill="#c8c230" class="sans" font-weight="bold" textLength="14.3" lengthAdjust="spacingAndGlyphs">I: 61.15</text>
<path d="M359.6,5 V177.5" stroke="#1e1e1e" stroke-width="0.8"/>
<path d="M526.7,6 V177.5 M526.2,180 V350" stroke="#4a4a4a" stroke-width="0.8"/>
<text x="507.8" y="358" font-size="4.2" fill="#20a090" class="sans" textLength="19.5" lengthAdjust="spacingAndGlyphs">LOC: -3.11</text>
<text x="520.3" y="361.6" font-size="3.6" fill="#20a090" class="sans" textLength="7" lengthAdjust="spacingAndGlyphs">RPS</text>
<circle cx="522.1" cy="448.6" r="0.7" fill="#20a090"/>
</svg></body></html>
